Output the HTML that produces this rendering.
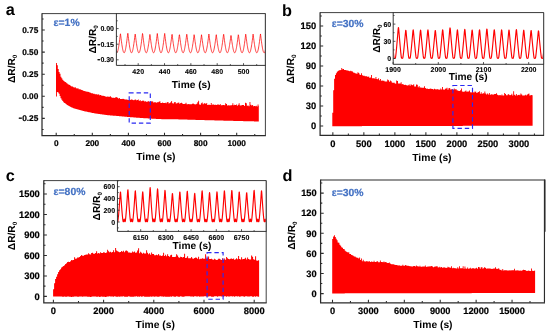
<!DOCTYPE html>
<html><head><meta charset="utf-8"><title>Figure</title>
<style>html,body{margin:0;padding:0;background:#fff}svg{display:block}</style>
</head><body>
<svg width="550" height="334" viewBox="0 0 550 334" style="text-rendering:geometricPrecision">
<defs>
<clipPath id="ca"><rect x="117" y="13" width="148" height="52"/></clipPath>
<clipPath id="cb"><rect x="393.6" y="13" width="149.6" height="51"/></clipPath>
<clipPath id="cc"><rect x="117.6" y="180" width="148.2" height="51"/></clipPath>
</defs>
<rect width="550" height="334" fill="#fff"/>
<path d="M56 62.88H56.9L56.9 65.34H57.8L57.8 69.11H58.7L58.7 71.93H59.6L59.6 73.76H60.5L60.5 76.7H61.4L61.4 78.29H62.3L62.3 79.71H63.2L63.2 80.85H64.1L64.1 81.45H65L65 82.05H65.9L65.9 82.63H66.8L66.8 83.54H67.7L67.7 84.28H68.6L68.6 84.78H69.5L69.5 84.92H70.4L70.4 85.9H71.3L71.3 86.38H72.2L72.2 86.42H73.1L73.1 87.3H74L74 87.42H74.9L74.9 87.26H75.8L75.8 88.2H76.7L76.7 88.39H77.6L77.6 88.32H78.5L78.5 89.18H79.4L79.4 89.35H80.3L80.3 89.5H81.2L81.2 89.89H82.1L82.1 90.33H83L83 90.75H83.9L83.9 90.91H84.8L84.8 91.24H85.7L85.7 91.46H86.6L86.6 91.79H87.5L87.5 91.66H88.4L88.4 92.03H89.3L89.3 92.62H90.2L90.2 92.75H91.1L91.1 93.18H92L92 93.37H92.9L92.9 93.69H93.8L93.8 93.76H94.7L94.7 94.2H95.6L95.6 94.35H96.5L96.5 94.32H97.4L97.4 94.76H98.3L98.3 94.32H99.2L99.2 95.26H100.1L100.1 95.04H101L101 95.52H101.9L101.9 95.71H102.8L102.8 95.74H103.7L103.7 96.03H104.6L104.6 96.29H105.5L105.5 96.69H106.4L106.4 96.81H107.3L107.3 96.51H108.2L108.2 96.85H109.1L109.1 96.82H110L110 96.2H110.9L110.9 97.13H111.8L111.8 97.73H112.7L112.7 97.75H113.6L113.6 97.68H114.5L114.5 98.09H115.4L115.4 96.92H116.3L116.3 97.25H117.2L117.2 97.82H118.1L118.1 98.47H119L119 98.04H119.9L119.9 98.91H120.8L120.8 98.92H121.7L121.7 98.91H122.6L122.6 98.68H123.5L123.5 99.11H124.4L124.4 99.47H125.3L125.3 99.45H126.2L126.2 99.57H127.1L127.1 99.7H128L128 99.89H128.9L128.9 99.81H129.8L129.8 99.88H130.7L130.7 99.52H131.6L131.6 99.56H132.5L132.5 100.09H133.4L133.4 100.24H134.3L134.3 99.87H135.2L135.2 99.6H136.1L136.1 100.25H137L137 100.08H137.9L137.9 99.53H138.8L138.8 101.12H139.7L139.7 100.09H140.6L140.6 101.14H141.5L141.5 101.05H142.4L142.4 100.6H143.3L143.3 100.87H144.2L144.2 101.59H145.1L145.1 101.14H146L146 101.81H146.9L146.9 101.68H147.8L147.8 101.04H148.7L148.7 101.79H149.6L149.6 101.66H150.5L150.5 101.51H151.4L151.4 101.32H152.3L152.3 101.56H153.2L153.2 102.5H154.1L154.1 102.24H155L155 102.26H155.9L155.9 102.68H156.8L156.8 102.29H157.7L157.7 102.26H158.6L158.6 101.79H159.5L159.5 101.15H160.4L160.4 102.95H161.3L161.3 102.91H162.2L162.2 102.41H163.1L163.1 103.06H164L164 103.03H164.9L164.9 102.66H165.8L165.8 103.15H166.7L166.7 102.28H167.6L167.6 102.02H168.5L168.5 103.38H169.4L169.4 102.91H170.3L170.3 102.36H171.2L171.2 100.91H172.1L172.1 103.34H173L173 103.47H173.9L173.9 102.14H174.8L174.8 101.94H175.7L175.7 103.57H176.6L176.6 103.34H177.5L177.5 102.87H178.4L178.4 102.46H179.3L179.3 103.75H180.2L180.2 103.1H181.1L181.1 102.71H182L182 103.39H182.9L182.9 103.9H183.8L183.8 104.04H184.7L184.7 103.85H185.6L185.6 102.85H186.5L186.5 104.14H187.4L187.4 104.21H188.3L188.3 103.89H189.2L189.2 104.23H190.1L190.1 104.19H191L191 104.34H191.9L191.9 103.79H192.8L192.8 103.46H193.7L193.7 104.01H194.6L194.6 104.38H195.5L195.5 104.2H196.4L196.4 103.83H197.3L197.3 102.24H198.2L198.2 100.85H199.1L199.1 104.45H200L200 104.71H200.9L200.9 103.22H201.8L201.8 102.53H202.7L202.7 104.27H203.6L203.6 103.55H204.5L204.5 103.11H205.4L205.4 104.07H206.3L206.3 103.1H207.2L207.2 104.93H208.1L208.1 104.7H209L209 104.72H209.9L209.9 104.93H210.8L210.8 102.89H211.7L211.7 105.08H212.6L212.6 104.11H213.5L213.5 105.1H214.4L214.4 104.78H215.3L215.3 104.72H216.2L216.2 105.07H217.1L217.1 104.59H218L218 104.59H218.9L218.9 104.98H219.8L219.8 104.11H220.7L220.7 105.24H221.6L221.6 105.23H222.5L222.5 105.05H223.4L223.4 105.04H224.3L224.3 105.31H225.2L225.2 103.17H226.1L226.1 103.91H227L227 105.51H227.9L227.9 105.21H228.8L228.8 105.42H229.7L229.7 105.13H230.6L230.6 105.43H231.5L231.5 105.1H232.4L232.4 103.36H233.3L233.3 105.36H234.2L234.2 104.85H235.1L235.1 105.01H236L236 104.58H236.9L236.9 105.87H237.8L237.8 104.66H238.7L238.7 103.21H239.6L239.6 105.14H240.5L240.5 105.72H241.4L241.4 105.01H242.3L242.3 104.92H243.2L243.2 105.11H244.1L244.1 106H245L245 102.73H245.9L245.9 103.26H246.8L246.8 105.71H247.7L247.7 105.41H248.6L248.6 106.26H249.5L249.5 102.07H250.4L250.4 104.73H251.3L251.3 105.42H252.2L252.2 105.05H253.1L253.1 106.24H254L254 106.11H254.9L254.9 106.22H255.8L255.8 105.66H256.7L256.7 106.46H257.6L257.6 104.43H258.5L258.5 106.01H258.8L258.8 121.5H258.5L258.5 121.48H257.6L257.6 121.46H256.7L256.7 121.44H255.8L255.8 121.42H254.9L254.9 121.39H254L254 121.37H253.1L253.1 121.35H252.2L252.2 121.33H251.3L251.3 121.31H250.4L250.4 121.28H249.5L249.5 121.26H248.6L248.6 121.24H247.7L247.7 121.22H246.8L246.8 121.2H245.9L245.9 121.18H245L245 121.15H244.1L244.1 121.13H243.2L243.2 121.11H242.3L242.3 121.09H241.4L241.4 121.07H240.5L240.5 121.04H239.6L239.6 121.02H238.7L238.7 121H237.8L237.8 120.98H236.9L236.9 120.96H236L236 120.93H235.1L235.1 120.91H234.2L234.2 120.89H233.3L233.3 120.87H232.4L232.4 120.85H231.5L231.5 120.83H230.6L230.6 120.8H229.7L229.7 120.78H228.8L228.8 120.76H227.9L227.9 120.73H227L227 120.71H226.1L226.1 120.68H225.2L225.2 120.66H224.3L224.3 120.64H223.4L223.4 120.61H222.5L222.5 120.59H221.6L221.6 120.56H220.7L220.7 120.54H219.8L219.8 120.52H218.9L218.9 120.49H218L218 120.47H217.1L217.1 120.44H216.2L216.2 120.42H215.3L215.3 120.4H214.4L214.4 120.37H213.5L213.5 120.35H212.6L212.6 120.32H211.7L211.7 120.3H210.8L210.8 120.28H209.9L209.9 120.25H209L209 120.23H208.1L208.1 120.2H207.2L207.2 120.18H206.3L206.3 120.16H205.4L205.4 120.13H204.5L204.5 120.11H203.6L203.6 120.08H202.7L202.7 120.06H201.8L201.8 120.04H200.9L200.9 120.01H200L200 119.99H199.1L199.1 119.96H198.2L198.2 119.93H197.3L197.3 119.91H196.4L196.4 119.88H195.5L195.5 119.85H194.6L194.6 119.82H193.7L193.7 119.8H192.8L192.8 119.77H191.9L191.9 119.74H191L191 119.72H190.1L190.1 119.69H189.2L189.2 119.66H188.3L188.3 119.64H187.4L187.4 119.61H186.5L186.5 119.58H185.6L185.6 119.55H184.7L184.7 119.53H183.8L183.8 119.5H182.9L182.9 119.47H182L182 119.45H181.1L181.1 119.42H180.2L180.2 119.4H179.3L179.3 119.38H178.4L178.4 119.37H177.5L177.5 119.36H176.6L176.6 119.34H175.7L175.7 119.33H174.8L174.8 119.32H173.9L173.9 119.3H173L173 119.29H172.1L172.1 119.27H171.2L171.2 119.26H170.3L170.3 119.25H169.4L169.4 119.23H168.5L168.5 119.22H167.6L167.6 119.21H166.7L166.7 119.19H165.8L165.8 119.18H164.9L164.9 119.17H164L164 119.15H163.1L163.1 119.14H162.2L162.2 119.13H161.3L161.3 119.11H160.4L160.4 119.1H159.5L159.5 119.05H158.6L158.6 119H157.7L157.7 118.95H156.8L156.8 118.9H155.9L155.9 118.85H155L155 118.8H154.1L154.1 118.75H153.2L153.2 118.7H152.3L152.3 118.65H151.4L151.4 118.6H150.5L150.5 118.54H149.6L149.6 118.48H148.7L148.7 118.43H147.8L147.8 118.37H146.9L146.9 118.32H146L146 118.26H145.1L145.1 118.2H144.2L144.2 118.15H143.3L143.3 118.09H142.4L142.4 118.03H141.5L141.5 117.98H140.6L140.6 117.92H139.7L139.7 117.86H138.8L138.8 117.78H137.9L137.9 117.71H137L137 117.64H136.1L136.1 117.57H135.2L135.2 117.49H134.3L134.3 117.42H133.4L133.4 117.35H132.5L132.5 117.28H131.6L131.6 117.2H130.7L130.7 117.13H129.8L129.8 117.06H128.9L128.9 116.99H128L128 116.91H127.1L127.1 116.83H126.2L126.2 116.75H125.3L125.3 116.67H124.4L124.4 116.59H123.5L123.5 116.51H122.6L122.6 116.43H121.7L121.7 116.35H120.8L120.8 116.27H119.9L119.9 116.19H119L119 116.11H118.1L118.1 116.03H117.2L117.2 115.95H116.3L116.3 115.87H115.4L115.4 115.79H114.5L114.5 115.71H113.6L113.6 115.63H112.7L112.7 115.55H111.8L111.8 115.47H110.9L110.9 115.39H110L110 115.31H109.1L109.1 115.23H108.2L108.2 115.15H107.3L107.3 115.08H106.4L106.4 114.99H105.5L105.5 114.86H104.6L104.6 114.73H103.7L103.7 114.6H102.8L102.8 114.47H101.9L101.9 114.34H101L101 114.21H100.1L100.1 114.08H99.2L99.2 113.95H98.3L98.3 113.83H97.4L97.4 113.7H96.5L96.5 113.57H95.6L95.6 113.44H94.7L94.7 113.27H93.8L93.8 113.08H92.9L92.9 112.9H92L92 112.71H91.1L91.1 112.53H90.2L90.2 112.34H89.3L89.3 112.16H88.4L88.4 111.97H87.5L87.5 111.79H86.6L86.6 111.6H85.7L85.7 111.42H84.8L84.8 111.23H83.9L83.9 111.03H83L83 110.76H82.1L82.1 110.5H81.2L81.2 110.24H80.3L80.3 109.98H79.4L79.4 109.71H78.5L78.5 109.45H77.6L77.6 109.19H76.7L76.7 108.92H75.8L75.8 108.66H74.9L74.9 108.4H74L74 108.14H73.1L73.1 107.87H72.2L72.2 107.46H71.3L71.3 106.99H70.4L70.4 106.52H69.5L69.5 106.05H68.6L68.6 105.58H67.7L67.7 104.93H66.8L66.8 104.25H65.9L65.9 103.57H65L65 102.89H64.1L64.1 102.21H63.2L63.2 101.02H62.3L62.3 99.73H61.4L61.4 98.2H60.5L60.5 96.03H59.6L59.6 93.86H58.7L58.7 92.53H57.8L57.8 92.04H56.9L56.9 96.5H56Z" fill="#ff0000"/>
<rect x="129.2" y="92.8" width="21.1" height="30.3" fill="none" stroke="#2a2af2" stroke-width="1.15" stroke-dasharray="4.4 2.9"/>
<path d="M42 13.6H265.4V135.6" fill="none" stroke="#2b2b2b" stroke-width="0.9"/>
<path d="M42 13.15V135.6H265.85" fill="none" stroke="#2b2b2b" stroke-width="1.25"/>
<path d="M56.2 135.6v-2.8M92.3 135.6v-2.8M128.4 135.6v-2.8M164.5 135.6v-2.8M200.6 135.6v-2.8M236.7 135.6v-2.8M74.25 135.6v-1.6M110.35 135.6v-1.6M146.45 135.6v-1.6M182.55 135.6v-1.6M218.65 135.6v-1.6M254.75 135.6v-1.6M42 30h2.8M42 52.1h2.8M42 74.2h2.8M42 96.3h2.8M42 118.4h2.8M42 18.95h1.6M42 41.05h1.6M42 63.15h1.6M42 85.25h1.6M42 107.35h1.6M42 129.45h1.6" fill="none" stroke="#2b2b2b" stroke-width="1.06"/>
<g font-size="8.3" font-family="Liberation Sans, Arial, sans-serif" font-weight="bold" fill="#000" stroke="#000" stroke-width="0.2">
<text x="56.2" y="146.1" text-anchor="middle">0</text>
<text x="92.3" y="146.1" text-anchor="middle">200</text>
<text x="128.4" y="146.1" text-anchor="middle">400</text>
<text x="164.5" y="146.1" text-anchor="middle">600</text>
<text x="200.6" y="146.1" text-anchor="middle">800</text>
<text x="236.7" y="146.1" text-anchor="middle">1000</text>
<text x="38.3" y="32.9" text-anchor="end">0.75</text>
<text x="38.3" y="55" text-anchor="end">0.50</text>
<text x="38.3" y="77.1" text-anchor="end">0.25</text>
<text x="38.3" y="99.2" text-anchor="end">0.00</text>
<text x="38.3" y="121.3" text-anchor="end"><tspan font-size="11.0">-</tspan>0.25</text>
</g>
<text transform="translate(15 68.8) rotate(-90)" font-size="10.2" text-anchor="middle" font-family="Liberation Sans, Arial, sans-serif" font-weight="bold" fill="#000">ΔR/R<tspan font-size="6.3" dy="2.2">0</tspan></text>
<text transform="translate(155.9 159.7) scale(1 1)" font-size="10.3" text-anchor="middle" font-family="Liberation Sans, Arial, sans-serif" font-weight="bold" fill="#000">Time (s)</text>
<text x="5.8" y="15.4" font-size="16.3" font-family="Liberation Sans, Arial, sans-serif" font-weight="bold" fill="#000">a</text>
<text transform="translate(53.6 25.8) scale(1 1)" font-size="10.4" font-family="Liberation Sans, Arial, sans-serif" font-weight="bold" fill="#4472c4" stroke="#4472c4" stroke-width="0.2">ε=1%</text>
<rect x="116.4" y="13.6" width="148.9" height="51.800000000000004" fill="#fff"/>
<path d="M115.5 50.05 115.7 50.83 115.9 51.5 116.1 52.03 116.3 52.42 116.5 52.68 116.7 52.79 116.9 52.77 117.1 52.6 117.3 52.3 117.5 51.86 117.7 51.28 117.9 50.57 118.1 49.74 118.3 48.79 118.5 47.73 118.7 46.57 118.9 45.31 119.1 43.96 119.3 42.53 119.5 41.04 119.7 39.5 119.9 37.91 120.1 36.28 120.3 34.64 120.5 33.81 120.7 35.46 120.9 37.1 121.1 38.71 121.3 40.28 121.5 41.8 121.7 43.25 121.9 44.64 122.1 45.95 122.3 47.16 122.5 48.28 122.7 49.28 122.9 50.17 123.1 50.94 123.3 51.58 123.5 52.09 123.7 52.47 123.9 52.7 124.1 52.8 124.3 52.75 124.5 52.56 124.7 52.22 124.9 51.74 125.1 51.11 125.3 50.36 125.5 49.48 125.7 48.47 125.9 47.35 126.1 46.12 126.3 44.79 126.5 43.38 126.7 41.88 126.9 40.32 127.1 38.7 127.3 37.04 127.5 35.35 127.7 33.63 127.9 33.29 128.1 35.01 128.3 36.7 128.5 38.37 128.7 40 128.9 41.57 129.1 43.08 129.3 44.52 129.5 45.86 129.7 47.11 129.9 48.25 130.1 49.28 130.3 50.19 130.5 50.97 130.7 51.62 130.9 52.13 131.1 52.5 131.3 52.72 131.5 52.8 131.7 52.73 131.9 52.53 132.1 52.18 132.3 51.7 132.5 51.08 132.7 50.34 132.9 49.47 133.1 48.49 133.3 47.39 133.5 46.2 133.7 44.91 133.9 43.54 134.1 42.09 134.3 40.58 134.5 39.02 134.7 37.42 134.9 35.79 135.1 34.14 135.3 34.31 135.5 35.96 135.7 37.58 135.9 39.18 136.1 40.74 136.3 42.24 136.5 43.68 136.7 45.04 136.9 46.32 137.1 47.51 137.3 48.59 137.5 49.56 137.7 50.42 137.9 51.15 138.1 51.75 138.3 52.22 138.5 52.55 138.7 52.75 138.9 52.8 139.1 52.71 139.3 52.48 139.5 52.1 139.7 51.59 139.9 50.94 140.1 50.16 140.3 49.26 140.5 48.24 140.7 47.1 140.9 45.87 141.1 44.54 141.3 43.13 141.5 41.65 141.7 40.1 141.9 38.5 142.1 36.86 142.3 35.19 142.5 33.51 142.7 34.18 142.9 35.86 143.1 37.52 143.3 39.14 143.5 40.72 143.7 42.25 143.9 43.7 144.1 45.08 144.3 46.38 144.5 47.57 144.7 48.66 144.9 49.63 145.1 50.49 145.3 51.22 145.5 51.81 145.7 52.27 145.9 52.59 146.1 52.76 146.3 52.79 146.5 52.69 146.7 52.45 146.9 52.08 147.1 51.58 147.3 50.95 147.5 50.2 147.7 49.34 147.9 48.36 148.1 47.28 148.3 46.11 148.5 44.85 148.7 43.51 148.9 42.11 149.1 40.64 149.3 39.14 149.5 37.59 149.7 36.02 149.9 34.44 150.1 35.55 150.3 37.12 150.5 38.67 150.7 40.2 150.9 41.67 151.1 43.1 151.3 44.46 151.5 45.74 151.7 46.94 151.9 48.05 152.1 49.05 152.3 49.95 152.5 50.74 152.7 51.4 152.9 51.94 153.1 52.35 153.3 52.63 153.5 52.78 153.7 52.79 153.9 52.66 154.1 52.39 154.3 51.98 154.5 51.44 154.7 50.77 154.9 49.98 155.1 49.06 155.3 48.03 155.5 46.9 155.7 45.67 155.9 44.35 156.1 42.95 156.3 41.48 156.5 39.95 156.7 38.38 156.9 36.77 157.1 35.14 157.3 33.5 157.5 35.14 157.7 36.77 157.9 38.38 158.1 39.95 158.3 41.48 158.5 42.95 158.7 44.35 158.9 45.67 159.1 46.9 159.3 48.03 159.5 49.06 159.7 49.98 159.9 50.77 160.1 51.44 160.3 51.98 160.5 52.39 160.7 52.66 160.9 52.79 161.1 52.78 161.3 52.62 161.5 52.33 161.7 51.9 161.9 51.33 162.1 50.63 162.3 49.8 162.5 48.85 162.7 47.79 162.9 46.62 163.1 45.36 163.3 44.01 163.5 42.57 163.7 41.08 163.9 39.52 164.1 37.92 164.3 36.28 164.5 34.62 164.7 33.45 164.9 35.12 165.1 36.77 165.3 38.4 165.5 39.99 165.7 41.53 165.9 43.01 166.1 44.42 166.3 45.75 166.5 46.99 166.7 48.12 166.9 49.15 167.1 50.06 167.3 50.85 167.5 51.51 167.7 52.04 167.9 52.43 168.1 52.68 168.3 52.79 168.5 52.76 168.7 52.6 168.9 52.29 169.1 51.85 169.3 51.29 169.5 50.59 169.7 49.78 169.9 48.85 170.1 47.81 170.3 46.67 170.5 45.43 170.7 44.12 170.9 42.73 171.1 41.27 171.3 39.76 171.5 38.21 171.7 36.63 171.9 35.03 172.1 34.38 172.3 35.99 172.5 37.58 172.7 39.15 172.9 40.67 173.1 42.15 173.3 43.57 173.5 44.92 173.7 46.19 173.9 47.36 174.1 48.44 174.3 49.42 174.5 50.28 174.7 51.02 174.9 51.64 175.1 52.13 175.3 52.49 175.5 52.71 175.7 52.8 175.9 52.75 176.1 52.56 176.3 52.24 176.5 51.78 176.7 51.2 176.9 50.49 177.1 49.66 177.3 48.72 177.5 47.67 177.7 46.52 177.9 45.28 178.1 43.96 178.3 42.57 178.5 41.11 178.7 39.6 178.9 38.05 179.1 36.48 179.3 34.88 179.5 34.72 179.7 36.32 179.9 37.9 180.1 39.45 180.3 40.96 180.5 42.42 180.7 43.82 180.9 45.15 181.1 46.4 181.3 47.56 181.5 48.62 181.7 49.57 181.9 50.41 182.1 51.13 182.3 51.73 182.5 52.2 182.7 52.53 182.9 52.74 183.1 52.8 183.3 52.73 183.5 52.51 183.7 52.17 183.9 51.68 184.1 51.06 184.3 50.32 184.5 49.46 184.7 48.48 184.9 47.39 185.1 46.2 185.3 44.93 185.5 43.56 185.7 42.13 185.9 40.63 186.1 39.09 186.3 37.5 186.5 35.89 186.7 34.25 186.9 34.58 187.1 36.21 187.3 37.82 187.5 39.4 187.7 40.94 187.9 42.42 188.1 43.84 188.3 45.19 188.5 46.45 188.7 47.62 188.9 48.68 189.1 49.64 189.3 50.48 189.5 51.2 189.7 51.79 189.9 52.25 190.1 52.57 190.3 52.75 190.5 52.8 190.7 52.71 190.9 52.48 191.1 52.13 191.3 51.64 191.5 51.03 191.7 50.3 191.9 49.45 192.1 48.49 192.3 47.42 192.5 46.27 192.7 45.02 192.9 43.7 193.1 42.31 193.3 40.86 193.5 39.36 193.7 37.83 193.9 36.27 194.1 34.69 194.3 35.48 194.5 37.05 194.7 38.6 194.9 40.11 195.1 41.59 195.3 43.01 195.5 44.37 195.7 45.65 195.9 46.86 196.1 47.97 196.3 48.98 196.5 49.88 196.7 50.68 196.9 51.35 197.1 51.9 197.3 52.32 197.5 52.61 197.7 52.77 197.9 52.79 198.1 52.68 198.3 52.44 198.5 52.07 198.7 51.58 198.9 50.96 199.1 50.22 199.3 49.37 199.5 48.41 199.7 47.35 199.9 46.19 200.1 44.96 200.3 43.64 200.5 42.27 200.7 40.83 200.9 39.35 201.1 37.84 201.3 36.3 201.5 34.76 201.7 36 201.9 37.54 202.1 39.05 202.3 40.54 202.5 41.98 202.7 43.37 202.9 44.7 203.1 45.95 203.3 47.12 203.5 48.2 203.7 49.18 203.9 50.06 204.1 50.82 204.3 51.46 204.5 51.98 204.7 52.38 204.9 52.65 205.1 52.78 205.3 52.78 205.5 52.65 205.7 52.38 205.9 51.98 206.1 51.45 206.3 50.79 206.5 50.01 206.7 49.11 206.9 48.1 207.1 46.99 207.3 45.79 207.5 44.5 207.7 43.13 207.9 41.7 208.1 40.21 208.3 38.68 208.5 37.11 208.7 35.52 208.9 34.08 209.1 35.68 209.3 37.27 209.5 38.83 209.7 40.36 209.9 41.85 210.1 43.27 210.3 44.63 210.5 45.91 210.7 47.11 210.9 48.21 211.1 49.2 211.3 50.09 211.5 50.86 211.7 51.51 211.9 52.03 212.1 52.42 212.3 52.67 212.5 52.79 212.7 52.77 212.9 52.62 213.1 52.34 213.3 51.93 213.5 51.39 213.7 50.72 213.9 49.94 214.1 49.05 214.3 48.05 214.5 46.95 214.7 45.75 214.9 44.48 215.1 43.13 215.3 41.72 215.5 40.26 215.7 38.75 215.9 37.21 216.1 35.65 216.3 34.71 216.5 36.28 216.7 37.83 216.9 39.36 217.1 40.85 217.3 42.29 217.5 43.68 217.7 45 217.9 46.24 218.1 47.4 218.3 48.46 218.5 49.42 218.7 50.27 218.9 51 219.1 51.62 219.3 52.11 219.5 52.47 219.7 52.7 219.9 52.8 220.1 52.76 220.3 52.58 220.5 52.27 220.7 51.82 220.9 51.24 221.1 50.53 221.3 49.7 221.5 48.76 221.7 47.7 221.9 46.54 222.1 45.29 222.3 43.96 222.5 42.55 222.7 41.08 222.9 39.55 223.1 37.98 223.3 36.38 223.5 34.76 223.7 34.27 223.9 35.89 224.1 37.5 224.3 39.08 224.5 40.62 224.7 42.11 224.9 43.54 225.1 44.9 225.3 46.18 225.5 47.36 225.7 48.45 225.9 49.43 226.1 50.3 226.3 51.04 226.5 51.66 226.7 52.15 226.9 52.5 227.1 52.72 227.3 52.8 227.5 52.74 227.7 52.56 227.9 52.24 228.1 51.8 228.3 51.24 228.5 50.55 228.7 49.75 228.9 48.85 229.1 47.84 229.3 46.73 229.5 45.54 229.7 44.27 229.9 42.93 230.1 41.54 230.3 40.09 230.5 38.61 230.7 37.1 230.9 35.57 231.1 35.57 231.3 37.1 231.5 38.61 231.7 40.09 231.9 41.54 232.1 42.93 232.3 44.27 232.5 45.54 232.7 46.73 232.9 47.84 233.1 48.85 233.3 49.75 233.5 50.55 233.7 51.24 233.9 51.8 234.1 52.24 234.3 52.56 234.5 52.74 234.7 52.8 234.9 52.72 235.1 52.51 235.3 52.16 235.5 51.69 235.7 51.09 235.9 50.36 236.1 49.52 236.3 48.56 236.5 47.51 236.7 46.35 236.9 45.11 237.1 43.78 237.3 42.39 237.5 40.94 237.7 39.44 237.9 37.9 238.1 36.34 238.3 34.75 238.5 35.23 238.7 36.81 238.9 38.37 239.1 39.89 239.3 41.38 239.5 42.82 239.7 44.19 239.9 45.49 240.1 46.71 240.3 47.83 240.5 48.86 240.7 49.78 240.9 50.59 241.1 51.28 241.3 51.85 241.5 52.28 241.7 52.59 241.9 52.76 242.1 52.8 242.3 52.7 242.5 52.46 242.7 52.09 242.9 51.59 243.1 50.96 243.3 50.2 243.5 49.33 243.7 48.34 243.9 47.25 244.1 46.06 244.3 44.79 244.5 43.43 244.7 42.01 244.9 40.52 245.1 38.99 245.3 37.42 245.5 35.83 245.7 34.22 245.9 35.19 246.1 36.79 246.3 38.37 246.5 39.92 246.7 41.42 246.9 42.87 247.1 44.25 247.3 45.56 247.5 46.79 247.7 47.92 247.9 48.95 248.1 49.86 248.3 50.67 248.5 51.35 248.7 51.9 248.9 52.33 249.1 52.62 249.3 52.77 249.5 52.79 249.7 52.67 249.9 52.42 250.1 52.03 250.3 51.51 250.5 50.87 250.7 50.11 250.9 49.22 251.1 48.23 251.3 47.14 251.5 45.95 251.7 44.67 251.9 43.32 252.1 41.9 252.3 40.43 252.5 38.91 252.7 37.35 252.9 35.77 253.1 34.18 253.3 35.61 253.5 37.19 253.7 38.75 253.9 40.28 254.1 41.76 254.3 43.18 254.5 44.54 254.7 45.83 254.9 47.02 255.1 48.13 255.3 49.13 255.5 50.02 255.7 50.8 255.9 51.46 256.1 51.99 256.3 52.39 256.5 52.65 256.7 52.78 256.9 52.78 257.1 52.64 257.3 52.36 257.5 51.95 257.7 51.4 257.9 50.73 258.1 49.94 258.3 49.02 258.5 48 258.7 46.87 258.9 45.65 259.1 44.34 259.3 42.96 259.5 41.51 259.7 40 259.9 38.45 260.1 36.86 260.3 35.26 260.5 33.96 260.7 35.58 260.9 37.18 261.1 38.76 261.3 40.31 261.5 41.8 261.7 43.24 261.9 44.61 262.1 45.9 262.3 47.11 262.5 48.21 262.7 49.21 262.9 50.1 263.1 50.88 263.3 51.52 263.5 52.04 263.7 52.43 263.9 52.68 264.1 52.79 264.3 52.77 264.5 52.61 264.7 52.31 264.9 51.88 265.1 51.33 265.3 50.64 265.5 49.84 265.7 48.92 265.9 47.89 266.1 46.76 266.3 45.54" fill="none" stroke="#ff0000" stroke-width="0.75" stroke-linejoin="round" clip-path="url(#ca)"/>
<path d="M116.4 13.6H265.3V65.4" fill="none" stroke="#2b2b2b" stroke-width="0.8"/>
<path d="M116.4 13.2V65.4H265.7" fill="none" stroke="#2b2b2b" stroke-width="0.95"/>
<path d="M138.2 65.4v-2.2M164.53 65.4v-2.2M190.86 65.4v-2.2M217.19 65.4v-2.2M243.52 65.4v-2.2M125.03 65.4v-1.3M151.36 65.4v-1.3M177.69 65.4v-1.3M204.02 65.4v-1.3M230.35 65.4v-1.3M256.69 65.4v-1.3M116.4 28.6h2.2M116.4 44.2h2.2M116.4 59.8h2.2M116.4 36.4h1.3M116.4 52h1.3M116.4 20.8h1.3" fill="none" stroke="#2b2b2b" stroke-width="0.81"/>
<g font-size="7.0" font-family="Liberation Sans, Arial, sans-serif" font-weight="bold" fill="#000" stroke="#000" stroke-width="0.1">
<text x="138.2" y="73.7" text-anchor="middle">420</text>
<text x="164.53" y="73.7" text-anchor="middle">440</text>
<text x="190.86" y="73.7" text-anchor="middle">460</text>
<text x="217.19" y="73.7" text-anchor="middle">480</text>
<text x="243.52" y="73.7" text-anchor="middle">500</text>
<text x="114" y="31.1" text-anchor="end">0.00</text>
<text x="114" y="46.7" text-anchor="end"><tspan font-size="9.2">-</tspan>0.15</text>
<text x="114" y="62.3" text-anchor="end"><tspan font-size="9.2">-</tspan>0.30</text>
</g>
<text transform="translate(96.1 39.3) rotate(-90)" font-size="10.2" text-anchor="middle" font-family="Liberation Sans, Arial, sans-serif" font-weight="bold" fill="#000">ΔR/R<tspan font-size="6.3" dy="2.2">0</tspan></text>
<text transform="translate(191.2 88.1) scale(1 1)" font-size="10.2" text-anchor="middle" font-family="Liberation Sans, Arial, sans-serif" font-weight="bold" fill="#000">Time (s)</text>
<path d="M332.3 112.79H333.2L333.2 90.27H334.1L334.1 78.66H335L335 74.98H335.9L335.9 73.19H336.8L336.8 71.75H337.7L337.7 71.08H338.6L338.6 70.3H339.5L339.5 70.27H340.4L340.4 69.98H341.3L341.3 68.03H342.2L342.2 69.2H343.1L343.1 69.11H344L344 70.07H344.9L344.9 69.93H345.8L345.8 70.2H346.7L346.7 70.53H347.6L347.6 70.49H348.5L348.5 71.01H349.4L349.4 71.21H350.3L350.3 70.78H351.2L351.2 71.31H352.1L352.1 71.58H353L353 72.5H353.9L353.9 72.75H354.8L354.8 73.15H355.7L355.7 73.42H356.6L356.6 73.74H357.5L357.5 72.2H358.4L358.4 73.08H359.3L359.3 74.62H360.2L360.2 74.9H361.1L361.1 73.35H362L362 75.13H362.9L362.9 75.65H363.8L363.8 75.83H364.7L364.7 76.31H365.6L365.6 76.23H366.5L366.5 76.23H367.4L367.4 76.88H368.3L368.3 76.42H369.2L369.2 77.72H370.1L370.1 77.39H371L371 75.11H371.9L371.9 78.36H372.8L372.8 78.2H373.7L373.7 78.2H374.6L374.6 78.84H375.5L375.5 76.93H376.4L376.4 79.11H377.3L377.3 79.35H378.2L378.2 78.31H379.1L379.1 80.28H380L380 78.97H380.9L380.9 80.65H381.8L381.8 80.62H382.7L382.7 80.65H383.6L383.6 80.85H384.5L384.5 81.52H385.4L385.4 81.43H386.3L386.3 81.56H387.2L387.2 79.54H388.1L388.1 80.24H389L389 81.75H389.9L389.9 80.39H390.8L390.8 81.16H391.7L391.7 82.62H392.6L392.6 83.1H393.5L393.5 82.57H394.4L394.4 83.22H395.3L395.3 83.73H396.2L396.2 80.39H397.1L397.1 80.98H398L398 83.58H398.9L398.9 83.54H399.8L399.8 83.53H400.7L400.7 82.27H401.6L401.6 84.22H402.5L402.5 84.12H403.4L403.4 84.83H404.3L404.3 84.94H405.2L405.2 84.63H406.1L406.1 85.22H407L407 85.56H407.9L407.9 85.27H408.8L408.8 84.51H409.7L409.7 85.64H410.6L410.6 84.18H411.5L411.5 85.04H412.4L412.4 85.31H413.3L413.3 84.31H414.2L414.2 86.48H415.1L415.1 86.52H416L416 84.59H416.9L416.9 84.78H417.8L417.8 87.13H418.7L418.7 85.97H419.6L419.6 87.55H420.5L420.5 87.6H421.4L421.4 87.8H422.3L422.3 87.76H423.2L423.2 87.8H424.1L424.1 86.14H425L425 88.07H425.9L425.9 88.66H426.8L426.8 88.59H427.7L427.7 88.99H428.6L428.6 89.07H429.5L429.5 88.66H430.4L430.4 88.61H431.3L431.3 89.12H432.2L432.2 89.04H433.1L433.1 89.49H434L434 88.67H434.9L434.9 89.25H435.8L435.8 89.58H436.7L436.7 89.11H437.6L437.6 89.56H438.5L438.5 89.48H439.4L439.4 89.7H440.3L440.3 88.41H441.2L441.2 89.56H442.1L442.1 86.94H443L443 89.4H443.9L443.9 89.72H444.8L444.8 88.71H445.7L445.7 88.6H446.6L446.6 87.82H447.5L447.5 89.7H448.4L448.4 88.34H449.3L449.3 87.95H450.2L450.2 89.46H451.1L451.1 89.34H452L452 89.17H452.9L452.9 89.98H453.8L453.8 88.46H454.7L454.7 89.44H455.6L455.6 88.9H456.5L456.5 90.34H457.4L457.4 90.38H458.3L458.3 91.03H459.2L459.2 91H460.1L460.1 90.2H461L461 88.49H461.9L461.9 91.46H462.8L462.8 91.66H463.7L463.7 91.73H464.6L464.6 91.34H465.5L465.5 90.47H466.4L466.4 91.81H467.3L467.3 91.53H468.2L468.2 91.54H469.1L469.1 90.59H470L470 92.24H470.9L470.9 92.48H471.8L471.8 91.91H472.7L472.7 92.25H473.6L473.6 92.43H474.5L474.5 91.44H475.4L475.4 91.87H476.3L476.3 93.03H477.2L477.2 92.52H478.1L478.1 91.91H479L479 91.3H479.9L479.9 93.74H480.8L480.8 92.33H481.7L481.7 94.01H482.6L482.6 93.12H483.5L483.5 93.46H484.4L484.4 91.52H485.3L485.3 93.53H486.2L486.2 94.49H487.1L487.1 93.58H488L488 94.43H488.9L488.9 93.1H489.8L489.8 94.84H490.7L490.7 94.57H491.6L491.6 93.94H492.5L492.5 94.92H493.4L493.4 94.15H494.3L494.3 94.06H495.2L495.2 94H496.1L496.1 93.34H497L497 94.87H497.9L497.9 95.29H498.8L498.8 95.2H499.7L499.7 95.08H500.6L500.6 95.55H501.5L501.5 94.43H502.4L502.4 95.54H503.3L503.3 95.54H504.2L504.2 93.04H505.1L505.1 94.04H506L506 95.32H506.9L506.9 95.2H507.8L507.8 93.94H508.7L508.7 94.68H509.6L509.6 95.31H510.5L510.5 95.03H511.4L511.4 93.76H512.3L512.3 95.6H513.2L513.2 91.32H514.1L514.1 94.81H515L515 95.41H515.9L515.9 94.07H516.8L516.8 95.52H517.7L517.7 95.1H518.6L518.6 94.79H519.5L519.5 95.33H520.4L520.4 93.54H521.3L521.3 94.47H522.2L522.2 95.43H523.1L523.1 95.44H524L524 95.54H524.9L524.9 94.79H525.8L525.8 95.4H526.7L526.7 94.86H527.6L527.6 93.97H528.5L528.5 93.59H529.4L529.4 95.48H530.3L530.3 95.22H531.2L531.2 95.09H532.1L532.1 95.14H532.6L532.6 125.7H532.1L532.1 125.7H531.2L531.2 125.7H530.3L530.3 125.71H529.4L529.4 125.71H528.5L528.5 125.71H527.6L527.6 125.71H526.7L526.7 125.72H525.8L525.8 125.72H524.9L524.9 125.72H524L524 125.72H523.1L523.1 125.72H522.2L522.2 125.73H521.3L521.3 125.73H520.4L520.4 125.73H519.5L519.5 125.73H518.6L518.6 125.74H517.7L517.7 125.74H516.8L516.8 125.74H515.9L515.9 125.74H515L515 125.75H514.1L514.1 125.75H513.2L513.2 125.75H512.3L512.3 125.75H511.4L511.4 125.75H510.5L510.5 125.76H509.6L509.6 125.76H508.7L508.7 125.76H507.8L507.8 125.76H506.9L506.9 125.77H506L506 125.77H505.1L505.1 125.77H504.2L504.2 125.77H503.3L503.3 125.77H502.4L502.4 125.78H501.5L501.5 125.78H500.6L500.6 125.78H499.7L499.7 125.78H498.8L498.8 125.79H497.9L497.9 125.79H497L497 125.79H496.1L496.1 125.79H495.2L495.2 125.79H494.3L494.3 125.8H493.4L493.4 125.8H492.5L492.5 125.8H491.6L491.6 125.8H490.7L490.7 125.81H489.8L489.8 125.81H488.9L488.9 125.81H488L488 125.81H487.1L487.1 125.81H486.2L486.2 125.82H485.3L485.3 125.82H484.4L484.4 125.82H483.5L483.5 125.82H482.6L482.6 125.83H481.7L481.7 125.83H480.8L480.8 125.83H479.9L479.9 125.83H479L479 125.83H478.1L478.1 125.84H477.2L477.2 125.84H476.3L476.3 125.84H475.4L475.4 125.84H474.5L474.5 125.85H473.6L473.6 125.85H472.7L472.7 125.85H471.8L471.8 125.85H470.9L470.9 125.86H470L470 125.86H469.1L469.1 125.86H468.2L468.2 125.86H467.3L467.3 125.86H466.4L466.4 125.87H465.5L465.5 125.87H464.6L464.6 125.87H463.7L463.7 125.87H462.8L462.8 125.88H461.9L461.9 125.88H461L461 125.88H460.1L460.1 125.88H459.2L459.2 125.88H458.3L458.3 125.89H457.4L457.4 125.89H456.5L456.5 125.89H455.6L455.6 125.89H454.7L454.7 125.9H453.8L453.8 125.9H452.9L452.9 125.9H452L452 125.9H451.1L451.1 125.9H450.2L450.2 125.91H449.3L449.3 125.91H448.4L448.4 125.91H447.5L447.5 125.91H446.6L446.6 125.92H445.7L445.7 125.92H444.8L444.8 125.92H443.9L443.9 125.92H443L443 125.92H442.1L442.1 125.93H441.2L441.2 125.93H440.3L440.3 125.93H439.4L439.4 125.93H438.5L438.5 125.94H437.6L437.6 125.94H436.7L436.7 125.94H435.8L435.8 125.94H434.9L434.9 125.95H434L434 125.95H433.1L433.1 125.95H432.2L432.2 125.95H431.3L431.3 125.95H430.4L430.4 125.96H429.5L429.5 125.96H428.6L428.6 125.96H427.7L427.7 125.96H426.8L426.8 125.97H425.9L425.9 125.97H425L425 125.97H424.1L424.1 125.97H423.2L423.2 125.97H422.3L422.3 125.98H421.4L421.4 125.98H420.5L420.5 125.98H419.6L419.6 125.98H418.7L418.7 125.99H417.8L417.8 125.99H416.9L416.9 125.99H416L416 125.99H415.1L415.1 125.99H414.2L414.2 126H413.3L413.3 126H412.4L412.4 126H411.5L411.5 126H410.6L410.6 126.01H409.7L409.7 126.01H408.8L408.8 126.01H407.9L407.9 126.01H407L407 126.01H406.1L406.1 126.02H405.2L405.2 126.02H404.3L404.3 126.02H403.4L403.4 126.02H402.5L402.5 126.03H401.6L401.6 126.03H400.7L400.7 126.03H399.8L399.8 126.03H398.9L398.9 126.03H398L398 126.04H397.1L397.1 126.04H396.2L396.2 126.04H395.3L395.3 126.04H394.4L394.4 126.05H393.5L393.5 126.05H392.6L392.6 126.05H391.7L391.7 126.05H390.8L390.8 126.06H389.9L389.9 126.06H389L389 126.06H388.1L388.1 126.06H387.2L387.2 126.06H386.3L386.3 126.07H385.4L385.4 126.07H384.5L384.5 126.07H383.6L383.6 126.07H382.7L382.7 126.08H381.8L381.8 126.08H380.9L380.9 126.08H380L380 126.08H379.1L379.1 126.08H378.2L378.2 126.09H377.3L377.3 126.09H376.4L376.4 126.09H375.5L375.5 126.09H374.6L374.6 126.1H373.7L373.7 126.1H372.8L372.8 126.1H371.9L371.9 126.1H371L371 126.1H370.1L370.1 126.11H369.2L369.2 126.11H368.3L368.3 126.11H367.4L367.4 126.11H366.5L366.5 126.12H365.6L365.6 126.12H364.7L364.7 126.12H363.8L363.8 126.12H362.9L362.9 126.12H362L362 126.13H361.1L361.1 126.13H360.2L360.2 126.13H359.3L359.3 126.13H358.4L358.4 126.14H357.5L357.5 126.14H356.6L356.6 126.14H355.7L355.7 126.14H354.8L354.8 126.14H353.9L353.9 126.15H353L353 126.15H352.1L352.1 126.15H351.2L351.2 126.15H350.3L350.3 126.16H349.4L349.4 126.16H348.5L348.5 126.16H347.6L347.6 126.16H346.7L346.7 126.17H345.8L345.8 126.17H344.9L344.9 126.17H344L344 126.17H343.1L343.1 126.17H342.2L342.2 126.18H341.3L341.3 126.18H340.4L340.4 126.18H339.5L339.5 126.18H338.6L338.6 126.19H337.7L337.7 126.19H336.8L336.8 126.19H335.9L335.9 126.19H335L335 126.19H334.1L334.1 126.2H333.2L333.2 126.2H332.3Z" fill="#ff0000"/>
<rect x="452.9" y="85.5" width="19.6" height="42.8" fill="none" stroke="#2a2af2" stroke-width="1.15" stroke-dasharray="4.4 2.9"/>
<path d="M320.1 12.6H543.65V135.25" fill="none" stroke="#2b2b2b" stroke-width="0.9"/>
<path d="M320.1 12.15V135.25H544.1" fill="none" stroke="#2b2b2b" stroke-width="1.25"/>
<path d="M332.85 135.25v-3.1M363.86 135.25v-3.1M394.87 135.25v-3.1M425.88 135.25v-3.1M456.89 135.25v-3.1M487.9 135.25v-3.1M518.91 135.25v-3.1M348.36 135.25v-1.7M379.37 135.25v-1.7M410.38 135.25v-1.7M441.38 135.25v-1.7M472.39 135.25v-1.7M503.41 135.25v-1.7M534.41 135.25v-1.7M320.1 126.05h3.1M320.1 106.03h3.1M320.1 86.01h3.1M320.1 65.99h3.1M320.1 45.97h3.1M320.1 25.95h3.1M320.1 116.04h1.7M320.1 96.02h1.7M320.1 76h1.7M320.1 55.98h1.7M320.1 35.96h1.7M320.1 15.95h1.7" fill="none" stroke="#2b2b2b" stroke-width="1.06"/>
<g font-size="9.35" font-family="Liberation Sans, Arial, sans-serif" font-weight="bold" fill="#000" stroke="#000" stroke-width="0.2">
<text x="332.85" y="146.75" text-anchor="middle">0</text>
<text x="363.86" y="146.75" text-anchor="middle">500</text>
<text x="394.87" y="146.75" text-anchor="middle">1000</text>
<text x="425.88" y="146.75" text-anchor="middle">1500</text>
<text x="456.89" y="146.75" text-anchor="middle">2000</text>
<text x="487.9" y="146.75" text-anchor="middle">2500</text>
<text x="518.91" y="146.75" text-anchor="middle">3000</text>
<text x="316.1" y="129.25" text-anchor="end">0</text>
<text x="316.1" y="109.23" text-anchor="end">30</text>
<text x="316.1" y="89.21" text-anchor="end">60</text>
<text x="316.1" y="69.19" text-anchor="end">90</text>
<text x="316.1" y="49.17" text-anchor="end">120</text>
<text x="316.1" y="29.15" text-anchor="end">150</text>
</g>
<text transform="translate(293.8 69) rotate(-90)" font-size="10.4" text-anchor="middle" font-family="Liberation Sans, Arial, sans-serif" font-weight="bold" fill="#000">ΔR/R<tspan font-size="6.4" dy="2.3">0</tspan></text>
<text transform="translate(431.9 160.8) scale(1 1)" font-size="10.3" text-anchor="middle" font-family="Liberation Sans, Arial, sans-serif" font-weight="bold" fill="#000">Time (s)</text>
<text x="282" y="15.5" font-size="16.3" font-family="Liberation Sans, Arial, sans-serif" font-weight="bold" fill="#000">b</text>
<text transform="translate(331.7 26.6) scale(1 1)" font-size="10.4" font-family="Liberation Sans, Arial, sans-serif" font-weight="bold" fill="#4472c4" stroke="#4472c4" stroke-width="0.2">ε=30%</text>
<rect x="393.2" y="12.6" width="150.40000000000003" height="51.699999999999996" fill="#fff"/>
<path d="M392.2 39.18 392.4 41.52 392.6 43.81 392.8 46.05 393 48.24 393.2 50.37 393.4 52.42 393.6 54.36 393.8 56.11 394 57.42 394.2 58.09 394.4 58.27 394.6 58.3 394.8 58.3 395 58.3 395.2 58.24 395.4 57.93 395.6 57.03 395.8 55.53 396 53.7 396.2 51.71 396.4 49.63 396.6 47.48 396.8 45.27 397 43.01 397.2 40.71 397.4 38.36 397.6 35.97 397.8 33.56 398 31.12 398.2 28.88 398.4 27.58 398.6 28.05 398.8 29.95 399 32.34 399.2 34.77 399.4 37.17 399.6 39.54 399.8 41.87 400 44.15 400.2 46.39 400.4 48.57 400.6 50.68 400.8 52.72 401 54.64 401.2 56.34 401.4 57.56 401.6 58.14 401.8 58.28 402 58.3 402.2 58.3 402.4 58.29 402.6 58.23 402.8 57.87 403 56.97 403.2 55.54 403.4 53.84 403.6 52.02 403.8 50.11 404 48.14 404.2 46.12 404.4 44.05 404.6 41.94 404.8 39.8 405 37.62 405.2 35.41 405.4 33.2 405.6 31.22 405.8 30.23 406 30.91 406.2 32.77 406.4 34.97 406.6 37.18 406.8 39.36 407 41.52 407.2 43.63 407.4 45.71 407.6 47.74 407.8 49.72 408 51.64 408.2 53.48 408.4 55.22 408.6 56.72 408.8 57.75 409 58.19 409.2 58.29 409.4 58.3 409.6 58.3 409.8 58.29 410 58.2 410.2 57.78 410.4 56.76 410.6 55.26 410.8 53.51 411 51.65 411.2 49.71 411.4 47.7 411.6 45.65 411.8 43.54 412 41.4 412.2 39.22 412.4 37.01 412.6 34.77 412.8 32.53 413 30.61 413.2 29.83 413.4 30.76 413.6 32.75 413.8 34.99 414 37.23 414.2 39.44 414.4 41.62 414.6 43.76 414.8 45.85 415 47.9 415.2 49.9 415.4 51.84 415.6 53.69 415.8 55.42 416 56.89 416.2 57.84 416.4 58.22 416.6 58.29 416.8 58.3 417 58.3 417.2 58.29 417.4 58.17 417.6 57.67 417.8 56.57 418 55.03 418.2 53.27 418.4 51.41 418.6 49.47 418.8 47.47 419 45.42 419.2 43.32 419.4 41.19 419.6 39.02 419.8 36.82 420 34.59 420.2 32.39 420.4 30.6 420.6 30.09 420.8 31.22 421 33.25 421.2 35.48 421.4 37.7 421.6 39.89 421.8 42.05 422 44.17 422.2 46.24 422.4 48.27 422.6 50.25 422.8 52.16 423 53.99 423.2 55.68 423.4 57.08 423.6 57.93 423.8 58.24 424 58.3 424.2 58.3 424.4 58.3 424.6 58.28 424.8 58.12 425 57.53 425.2 56.35 425.4 54.75 425.6 52.96 425.8 51.07 426 49.11 426.2 47.09 426.4 45.02 426.6 42.9 426.8 40.75 427 38.56 427.2 36.34 427.4 34.09 427.6 31.9 427.8 30.23 428 29.97 428.2 31.31 428.4 33.42 428.6 35.67 428.8 37.9 429 40.1 429.2 42.26 429.4 44.39 429.6 46.47 429.8 48.51 430 50.49 430.2 52.4 430.4 54.23 430.6 55.9 430.8 57.24 431 58.01 431.2 58.26 431.4 58.3 431.6 58.3 431.8 58.3 432 58.27 432.2 58.07 432.4 57.41 432.6 56.17 432.8 54.57 433 52.79 433.2 50.93 433.4 49 433.6 47.01 433.8 44.97 434 42.89 434.2 40.78 434.4 38.63 434.6 36.44 434.8 34.24 435 32.11 435.2 30.59 435.4 30.59 435.6 32.11 435.8 34.24 436 36.44 436.2 38.63 436.4 40.78 436.6 42.89 436.8 44.97 437 47.01 437.2 49 437.4 50.93 437.6 52.79 437.8 54.57 438 56.17 438.2 57.41 438.4 58.07 438.6 58.27 438.8 58.3 439 58.3 439.2 58.3 439.4 58.26 439.6 58.01 439.8 57.24 440 55.89 440.2 54.21 440.4 52.38 440.6 50.46 440.8 48.48 441 46.43 441.2 44.34 441.4 42.21 441.6 40.04 441.8 37.83 442 35.59 442.2 33.34 442.4 31.22 442.6 29.87 442.8 30.13 443 31.81 443.2 34.01 443.4 36.27 443.6 38.5 443.8 40.69 444 42.85 444.2 44.98 444.4 47.05 444.6 49.08 444.8 51.05 445 52.94 445.2 54.74 445.4 56.34 445.6 57.53 445.8 58.12 446 58.28 446.2 58.3 446.4 58.3 446.6 58.3 446.8 58.23 447 57.9 447.2 56.98 447.4 55.47 447.6 53.65 447.8 51.67 448 49.61 448.2 47.48 448.4 45.28 448.6 43.04 448.8 40.75 449 38.42 449.2 36.06 449.4 33.66 449.6 31.25 449.8 29.06 450 27.84 450.2 28.39 450.4 30.32 450.6 32.7 450.8 35.1 451 37.48 451.2 39.83 451.4 42.13 451.6 44.39 451.8 46.6 452 48.76 452.2 50.86 452.4 52.87 452.6 54.77 452.8 56.44 453 57.62 453.2 58.15 453.4 58.29 453.6 58.3 453.8 58.3 454 58.29 454.2 58.22 454.4 57.84 454.6 56.89 454.8 55.42 455 53.69 455.2 51.84 455.4 49.9 455.6 47.9 455.8 45.85 456 43.76 456.2 41.62 456.4 39.44 456.6 37.23 456.8 34.99 457 32.75 457.2 30.76 457.4 29.83 457.6 30.61 457.8 32.53 458 34.77 458.2 37.01 458.4 39.22 458.6 41.4 458.8 43.54 459 45.65 459.2 47.7 459.4 49.71 459.6 51.65 459.8 53.51 460 55.26 460.2 56.76 460.4 57.78 460.6 58.2 460.8 58.29 461 58.3 461.2 58.3 461.4 58.29 461.6 58.19 461.8 57.73 462 56.67 462.2 55.11 462.4 53.32 462.6 51.42 462.8 49.43 463 47.39 463.2 45.29 463.4 43.14 463.6 40.96 463.8 38.73 464 36.47 464.2 34.19 464.4 31.92 464.6 29.99 464.8 29.29 465 30.31 465.2 32.36 465.4 34.64 465.6 36.93 465.8 39.18 466 41.4 466.2 43.58 466.4 45.71 466.6 47.8 466.8 49.84 467 51.81 467.2 53.69 467.4 55.45 467.6 56.92 467.8 57.86 468 58.22 468.2 58.29 468.4 58.3 468.6 58.3 468.8 58.28 469 58.15 469.2 57.62 469.4 56.5 469.6 54.94 469.8 53.18 470 51.31 470.2 49.37 470.4 47.37 470.6 45.31 470.8 43.22 471 41.08 471.2 38.91 471.4 36.71 471.6 34.47 471.8 32.28 472 30.54 472.2 30.11 472.4 31.31 472.6 33.36 472.8 35.59 473 37.81 473.2 40 473.4 42.15 473.6 44.27 473.8 46.35 474 48.37 474.2 50.35 474.4 52.26 474.6 54.08 474.8 55.76 475 57.13 475.2 57.96 475.4 58.25 475.6 58.3 475.8 58.3 476 58.3 476.2 58.28 476.4 58.1 476.6 57.48 476.8 56.27 477 54.65 477.2 52.85 477.4 50.95 477.6 48.98 477.8 46.95 478 44.87 478.2 42.75 478.4 40.58 478.6 38.38 478.8 36.15 479 33.9 479.2 31.71 479.4 30.07 479.6 29.9 479.8 31.31 480 33.45 480.2 35.7 480.4 37.94 480.6 40.15 480.8 42.32 481 44.45 481.2 46.54 481.4 48.58 481.6 50.56 481.8 52.48 482 54.3 482.2 55.97 482.4 57.29 482.6 58.03 482.8 58.26 483 58.3 483.2 58.3 483.4 58.3 483.6 58.27 483.8 58.05 484 57.32 484.2 55.98 484.4 54.28 484.6 52.4 484.8 50.43 485 48.39 485.2 46.3 485.4 44.15 485.6 41.95 485.8 39.72 486 37.45 486.2 35.15 486.4 32.83 486.6 30.61 486.8 29.08 487 29.17 487.2 30.81 487.4 33.06 487.6 35.38 487.8 37.68 488 39.95 488.2 42.18 488.4 44.36 488.6 46.51 488.8 48.6 489 50.63 489.2 52.59 489.4 54.45 489.6 56.13 489.8 57.41 490 58.08 490.2 58.27 490.4 58.3 490.6 58.3 490.8 58.3 491 58.25 491.2 57.98 491.4 57.18 491.6 55.81 491.8 54.11 492 52.27 492.2 50.34 492.4 48.34 492.6 46.29 492.8 44.19 493 42.05 493.2 39.87 493.4 37.65 493.6 35.4 493.8 33.14 494 31.04 494.2 29.76 494.4 30.1 494.6 31.83 494.8 34.04 495 36.31 495.2 38.54 495.4 40.74 495.6 42.91 495.8 45.04 496 47.12 496.2 49.15 496.4 51.12 496.6 53.02 496.8 54.81 497 56.41 497.2 57.57 497.4 58.13 497.6 58.28 497.8 58.3 498 58.3 498.2 58.3 498.4 58.23 498.6 57.9 498.8 57.01 499 55.58 499.2 53.87 499.4 52.03 499.6 50.1 499.8 48.11 500 46.06 500.2 43.97 500.4 41.83 500.6 39.66 500.8 37.45 501 35.22 501.2 32.97 501.4 30.94 501.6 29.87 501.8 30.48 502 32.32 502.2 34.54 502.4 36.79 502.6 39 502.8 41.18 503 43.33 503.2 45.44 503.4 47.5 503.6 49.51 503.8 51.46 504 53.33 504.2 55.09 504.4 56.63 504.6 57.7 504.8 58.18 505 58.29 505.2 58.3 505.4 58.3 505.6 58.29 505.8 58.21 506 57.81 506.2 56.84 506.4 55.36 506.6 53.63 506.8 51.79 507 49.86 507.2 47.87 507.4 45.83 507.6 43.75 507.8 41.62 508 39.46 508.2 37.26 508.4 35.03 508.6 32.81 508.8 30.85 509 29.99 509.2 30.85 509.4 32.81 509.6 35.03 509.8 37.26 510 39.46 510.2 41.62 510.4 43.75 510.6 45.83 510.8 47.87 511 49.86 511.2 51.79 511.4 53.63 511.6 55.36 511.8 56.84 512 57.81 512.2 58.21 512.4 58.29 512.6 58.3 512.8 58.3 513 58.29 513.2 58.18 513.4 57.7 513.6 56.61 513.8 55.06 514 53.28 514.2 51.39 514.4 49.42 514.6 47.39 514.8 45.31 515 43.18 515.2 41.01 515.4 38.81 515.6 36.57 515.8 34.31 516 32.06 516.2 30.2 516.4 29.59 516.6 30.67 516.8 32.72 517 34.99 517.2 37.25 517.4 39.48 517.6 41.67 517.8 43.83 518 45.94 518.2 48.01 518.4 50.02 518.6 51.96 518.8 53.83 519 55.56 519.2 57 519.4 57.89 519.6 58.23 519.8 58.3 520 58.3 520.2 58.3 520.4 58.28 520.6 58.14 520.8 57.58 521 56.44 521.2 54.87 521.4 53.11 521.6 51.24 521.8 49.3 522 47.3 522.2 45.25 522.4 43.16 522.6 41.03 522.8 38.87 523 36.67 523.2 34.44 523.4 32.27 523.6 30.57 523.8 30.22 524 31.49 524.2 33.55 524.4 35.78 524.6 37.99 524.8 40.17 525 42.31 525.2 44.42 525.4 46.49 525.6 48.51 525.8 50.47 526 52.37 526.2 54.18 526.4 55.85 526.6 57.2 526.8 57.98 527 58.25 527.2 58.3 527.4 58.3 527.6 58.3 527.8 58.27 528 58.09 528.2 57.46 528.4 56.24 528.6 54.65 528.8 52.89 529 51.03 529.2 49.1 529.4 47.11 529.6 45.08 529.8 43 530 40.88 530.2 38.74 530.4 36.55 530.6 34.35 530.8 32.21 531 30.66 531.2 30.57 531.4 32.02 531.6 34.13 531.8 36.33 532 38.52 532.2 40.67 532.4 42.79 532.6 44.87 532.8 46.91 533 48.9 533.2 50.84 533.4 52.7 533.6 54.48 533.8 56.1 534 57.37 534.2 58.06 534.4 58.27 534.6 58.3 534.8 58.3 535 58.3 535.2 58.27 535.4 58.04 535.6 57.33 535.8 56.06 536 54.45 536.2 52.69 536.4 50.84 536.6 48.93 536.8 46.96 537 44.95 537.2 42.9 537.4 40.8 537.6 38.68 537.8 36.52 538 34.35 538.2 32.29 538.4 30.92 538.6 31.09 538.8 32.67 539 34.78 539.2 36.96 539.4 39.11 539.6 41.22 539.8 43.31 540 45.36 540.2 47.36 540.4 49.32 540.6 51.22 540.8 53.05 541 54.78 541.2 56.34 541.4 57.51 541.6 58.11 541.8 58.28 542 58.3 542.2 58.3 542.4 58.3 542.6 58.25 542.8 57.97 543 57.18 543.2 55.86 543.4 54.25 543.6 52.5 543.8 50.66 544 48.77 544.2 46.82 544.4 44.83" fill="none" stroke="#ff0000" stroke-width="1.15" stroke-linejoin="round" clip-path="url(#cb)"/>
<path d="M393.2 12.6H543.6V64.3" fill="none" stroke="#2b2b2b" stroke-width="0.8"/>
<path d="M393.2 12.2V64.3H544" fill="none" stroke="#2b2b2b" stroke-width="0.95"/>
<path d="M393.1 64.3v-2.2M438.3 64.3v-2.2M483.5 64.3v-2.2M528.7 64.3v-2.2M415.7 64.3v-1.3M460.9 64.3v-1.3M506.1 64.3v-1.3M393.2 58.5h2.2M393.2 41.3h2.2M393.2 24.1h2.2M393.2 49.9h1.3M393.2 32.7h1.3M393.2 15.5h1.3" fill="none" stroke="#2b2b2b" stroke-width="0.81"/>
<g font-size="7.0" font-family="Liberation Sans, Arial, sans-serif" font-weight="bold" fill="#000" stroke="#000" stroke-width="0.1">
<text x="393.1" y="71.5" text-anchor="middle">1900</text>
<text x="438.3" y="71.5" text-anchor="middle">2000</text>
<text x="483.5" y="71.5" text-anchor="middle">2100</text>
<text x="528.7" y="71.5" text-anchor="middle">2200</text>
<text x="391.2" y="61" text-anchor="end">0</text>
<text x="391.2" y="43.8" text-anchor="end">30</text>
<text x="391.2" y="26.6" text-anchor="end">60</text>
</g>
<text transform="translate(380 38.6) rotate(-90)" font-size="10.2" text-anchor="middle" font-family="Liberation Sans, Arial, sans-serif" font-weight="bold" fill="#000">ΔR/R<tspan font-size="6.3" dy="2.2">0</tspan></text>
<text transform="translate(468.1 80) scale(1 1)" font-size="10.2" text-anchor="middle" font-family="Liberation Sans, Arial, sans-serif" font-weight="bold" fill="#000">Time (s)</text>
<path d="M53.1 289.32H54.1L54.1 283.24H55.1L55.1 279.04H56.1L56.1 276.77H57.1L57.1 274.15H58.1L58.1 271.96H59.1L59.1 270.36H60.1L60.1 269.29H61.1L61.1 267.42H62.1L62.1 266.7H63.1L63.1 265.95H64.1L64.1 265.13H65.1L65.1 264.02H66.1L66.1 263.33H67.1L67.1 262.03H68.1L68.1 261.75H69.1L69.1 261.97H70.1L70.1 261.26H71.1L71.1 259.96H72.1L72.1 260.15H73.1L73.1 259.96H74.1L74.1 257.32H75.1L75.1 258.69H76.1L76.1 258.4H77.1L77.1 257.59H78.1L78.1 257.5H79.1L79.1 257.11H80.1L80.1 255.91H81.1L81.1 254.95H82.1L82.1 255.67H83.1L83.1 255.74H84.1L84.1 254.93H85.1L85.1 254.77H86.1L86.1 254.44H87.1L87.1 254.61H88.1L88.1 253.14H89.1L89.1 254.35H90.1L90.1 254.4H91.1L91.1 253.01H92.1L92.1 252.76H93.1L93.1 253.87H94.1L94.1 253.87H95.1L95.1 253.04H96.1L96.1 251.18H97.1L97.1 253.58H98.1L98.1 253.01H99.1L99.1 253.48H100.1L100.1 252.26H101.1L101.1 252.96H102.1L102.1 253.04H103.1L103.1 252.3H104.1L104.1 252.55H105.1L105.1 253.04H106.1L106.1 252.62H107.1L107.1 249.68H108.1L108.1 251.27H109.1L109.1 252.17H110.1L110.1 251.69H111.1L111.1 252.62H112.1L112.1 252.12H113.1L113.1 250.17H114.1L114.1 252.37H115.1L115.1 248.12H116.1L116.1 250.41H117.1L117.1 251.15H118.1L118.1 251.86H119.1L119.1 252.21H120.1L120.1 251.95H121.1L121.1 250.89H122.1L122.1 251.82H123.1L123.1 250.68H124.1L124.1 252.24H125.1L125.1 250.65H126.1L126.1 250.44H127.1L127.1 251.24H128.1L128.1 252.44H129.1L129.1 252.46H130.1L130.1 252.71H131.1L131.1 252.77H132.1L132.1 251.39H133.1L133.1 252.17H134.1L134.1 251.38H135.1L135.1 252.64H136.1L136.1 252.58H137.1L137.1 250.62H138.1L138.1 248.24H139.1L139.1 253.19H140.1L140.1 251.77H141.1L141.1 252.65H142.1L142.1 253.66H143.1L143.1 252.73H144.1L144.1 253.54H145.1L145.1 253.54H146.1L146.1 250.3H147.1L147.1 252.76H148.1L148.1 254.32H149.1L149.1 253.27H150.1L150.1 254.66H151.1L151.1 252.43H152.1L152.1 253.97H153.1L153.1 254.01H154.1L154.1 255.24H155.1L155.1 255.3H156.1L156.1 254.72H157.1L157.1 255.13H158.1L158.1 253.88H159.1L159.1 255.49H160.1L160.1 255.4H161.1L161.1 255.92H162.1L162.1 255.39H163.1L163.1 252.85H164.1L164.1 256.02H165.1L165.1 254.74H166.1L166.1 256.36H167.1L167.1 254.27H168.1L168.1 255.97H169.1L169.1 256.71H170.1L170.1 255.28H171.1L171.1 254.66H172.1L172.1 256.99H173.1L173.1 257.12H174.1L174.1 257.04H175.1L175.1 256.64H176.1L176.1 254.21H177.1L177.1 255.41H178.1L178.1 257.21H179.1L179.1 257.66H180.1L180.1 256.78H181.1L181.1 256.9H182.1L182.1 257.6H183.1L183.1 256.96H184.1L184.1 253.65H185.1L185.1 257.95H186.1L186.1 257.79H187.1L187.1 256.21H188.1L188.1 258.17H189.1L189.1 258.29H190.1L190.1 258.31H191.1L191.1 256.98H192.1L192.1 258.53H193.1L193.1 258.71H194.1L194.1 257.9H195.1L195.1 257.55H196.1L196.1 257.76H197.1L197.1 258.86H198.1L198.1 256.83H199.1L199.1 259.27H200.1L200.1 258.7H201.1L201.1 258.72H202.1L202.1 258.25H203.1L203.1 258.77H204.1L204.1 258.72H205.1L205.1 254.32H206.1L206.1 258.55H207.1L207.1 258.31H208.1L208.1 256.47H209.1L209.1 258.93H210.1L210.1 258.95H211.1L211.1 258.66H212.1L212.1 259.62H213.1L213.1 259.75H214.1L214.1 258.74H215.1L215.1 259.4H216.1L216.1 259.89H217.1L217.1 259.69H218.1L218.1 258.83H219.1L219.1 258.63H220.1L220.1 259.5H221.1L221.1 259.99H222.1L222.1 258.2H223.1L223.1 259.9H224.1L224.1 258.54H225.1L225.1 259.86H226.1L226.1 256.98H227.1L227.1 258.3H228.1L228.1 259.11H229.1L229.1 259.2H230.1L230.1 258.86H231.1L231.1 258.61H232.1L232.1 258.9H233.1L233.1 258.49H234.1L234.1 259.7H235.1L235.1 259.21H236.1L236.1 258.26H237.1L237.1 259.17H238.1L238.1 255.92H239.1L239.1 258.96H240.1L240.1 259.39H241.1L241.1 257.35H242.1L242.1 259.2H243.1L243.1 258.93H244.1L244.1 258.67H245.1L245.1 257.67H246.1L246.1 259.54H247.1L247.1 257.52H248.1L248.1 258.9H249.1L249.1 259.39H250.1L250.1 259.5H251.1L251.1 255.6H252.1L252.1 256.83H253.1L253.1 259.25H254.1L254.1 259.71H255.1L255.1 256.34H256.1L256.1 260.58H257.1L257.1 260.79H258.1L258.1 260.37H259.1L259.1 260.23H259.1L259.1 296.44H259.1L259.1 296.65H258.1L258.1 296.6H257.1L257.1 296.21H256.1L256.1 296.7H255.1L255.1 296.36H254.1L254.1 296.65H253.1L253.1 296.63H252.1L252.1 296.33H251.1L251.1 296.31H250.1L250.1 296.55H249.1L249.1 296.51H248.1L248.1 296.46H247.1L247.1 296.36H246.1L246.1 296.27H245.1L245.1 296.64H244.1L244.1 296.45H243.1L243.1 296.22H242.1L242.1 296.17H241.1L241.1 296.39H240.1L240.1 296.73H239.1L239.1 296.2H238.1L238.1 296.52H237.1L237.1 296.23H236.1L236.1 296.16H235.1L235.1 296.71H234.1L234.1 296.15H233.1L233.1 296.58H232.1L232.1 296.3H231.1L231.1 296.27H230.1L230.1 296.51H229.1L229.1 296.57H228.1L228.1 296.21H227.1L227.1 296.65H226.1L226.1 296.18H225.1L225.1 296.2H224.1L224.1 296.67H223.1L223.1 296.47H222.1L222.1 296.59H221.1L221.1 296.31H220.1L220.1 296.29H219.1L219.1 296.28H218.1L218.1 296.66H217.1L217.1 296.29H216.1L216.1 296.21H215.1L215.1 296.2H214.1L214.1 296.66H213.1L213.1 296.73H212.1L212.1 296.76H211.1L211.1 296.36H210.1L210.1 296.2H209.1L209.1 296.49H208.1L208.1 296.53H207.1L207.1 296.56H206.1L206.1 296.36H205.1L205.1 296.22H204.1L204.1 296.54H203.1L203.1 296.41H202.1L202.1 296.55H201.1L201.1 296.56H200.1L200.1 296.73H199.1L199.1 296.26H198.1L198.1 296.51H197.1L197.1 296.56H196.1L196.1 296.31H195.1L195.1 296.28H194.1L194.1 296.72H193.1L193.1 296.46H192.1L192.1 296.62H191.1L191.1 296.62H190.1L190.1 296.24H189.1L189.1 296.3H188.1L188.1 296.22H187.1L187.1 296.34H186.1L186.1 296.27H185.1L185.1 296.52H184.1L184.1 296.73H183.1L183.1 296.7H182.1L182.1 296.5H181.1L181.1 296.31H180.1L180.1 296.68H179.1L179.1 296.78H178.1L178.1 296.41H177.1L177.1 296.3H176.1L176.1 296.69H175.1L175.1 296.7H174.1L174.1 296.62H173.1L173.1 296.36H172.1L172.1 296.74H171.1L171.1 296.56H170.1L170.1 296.63H169.1L169.1 296.69H168.1L168.1 296.75H167.1L167.1 296.7H166.1L166.1 296.73H165.1L165.1 296.39H164.1L164.1 296.68H163.1L163.1 296.6H162.1L162.1 296.59H161.1L161.1 296.26H160.1L160.1 296.43H159.1L159.1 296.73H158.1L158.1 296.67H157.1L157.1 296.51H156.1L156.1 296.42H155.1L155.1 296.85H154.1L154.1 296.41H153.1L153.1 296.54H152.1L152.1 296.83H151.1L151.1 296.49H150.1L150.1 296.72H149.1L149.1 296.67H148.1L148.1 296.68H147.1L147.1 296.68H146.1L146.1 296.69H145.1L145.1 296.66H144.1L144.1 296.29H143.1L143.1 296.58H142.1L142.1 296.75H141.1L141.1 296.28H140.1L140.1 296.87H139.1L139.1 296.45H138.1L138.1 296.82H137.1L137.1 296.32H136.1L136.1 296.44H135.1L135.1 296.44H134.1L134.1 296.68H133.1L133.1 296.64H132.1L132.1 296.79H131.1L131.1 296.83H130.1L130.1 296.54H129.1L129.1 296.33H128.1L128.1 296.82H127.1L127.1 296.78H126.1L126.1 296.86H125.1L125.1 296.71H124.1L124.1 296.36H123.1L123.1 296.61H122.1L122.1 296.42H121.1L121.1 296.44H120.1L120.1 296.79H119.1L119.1 296.56H118.1L118.1 296.65H117.1L117.1 296.71H116.1L116.1 296.39H115.1L115.1 296.32H114.1L114.1 296.8H113.1L113.1 296.39H112.1L112.1 296.42H111.1L111.1 296.57H110.1L110.1 296.33H109.1L109.1 296.58H108.1L108.1 296.57H107.1L107.1 296.87H106.1L106.1 296.91H105.1L105.1 296.76H104.1L104.1 296.73H103.1L103.1 296.7H102.1L102.1 296.46H101.1L101.1 296.66H100.1L100.1 296.88H99.1L99.1 296.51H98.1L98.1 296.8H97.1L97.1 296.79H96.1L96.1 296.38H95.1L95.1 296.59H94.1L94.1 296.49H93.1L93.1 296.42H92.1L92.1 296.85H91.1L91.1 296.93H90.1L90.1 296.63H89.1L89.1 296.68H88.1L88.1 296.77H87.1L87.1 296.55H86.1L86.1 296.58H85.1L85.1 296.39H84.1L84.1 296.48H83.1L83.1 296.81H82.1L82.1 296.53H81.1L81.1 296.43H80.1L80.1 296.53H79.1L79.1 296.7H78.1L78.1 296.86H77.1L77.1 296.4H76.1L76.1 296.51H75.1L75.1 296.57H74.1L74.1 296.73H73.1L73.1 296.8H72.1L72.1 296.91H71.1L71.1 296.83H70.1L70.1 296.77H69.1L69.1 296.38H68.1L68.1 296.59H67.1L67.1 296.85H66.1L66.1 296.77H65.1L65.1 296.45H64.1L64.1 296.63H63.1L63.1 296.85H62.1L62.1 296.46H61.1L61.1 296.61H60.1L60.1 296.47H59.1L59.1 296.47H58.1L58.1 296.5H57.1L57.1 296.54H56.1L56.1 296.45H55.1L55.1 296.51H54.1L54.1 296.4H53.1Z" fill="#ff0000"/>
<rect x="207.1" y="252.6" width="16" height="46.6" fill="none" stroke="#2a2af2" stroke-width="1.15" stroke-dasharray="4.4 2.9"/>
<path d="M43.8 180.6H266.2V302.8" fill="none" stroke="#2b2b2b" stroke-width="0.9"/>
<path d="M43.8 180.15V302.8H266.65" fill="none" stroke="#2b2b2b" stroke-width="1.25"/>
<path d="M53.4 302.8v-3.1M103.6 302.8v-3.1M153.8 302.8v-3.1M204 302.8v-3.1M254.2 302.8v-3.1M78.5 302.8v-1.7M128.7 302.8v-1.7M178.9 302.8v-1.7M229.1 302.8v-1.7M43.8 296.4h3.1M43.8 275.91h3.1M43.8 255.42h3.1M43.8 234.93h3.1M43.8 214.44h3.1M43.8 193.95h3.1M43.8 286.15h1.7M43.8 265.66h1.7M43.8 245.17h1.7M43.8 224.68h1.7M43.8 204.19h1.7M43.8 183.7h1.7" fill="none" stroke="#2b2b2b" stroke-width="1.06"/>
<g font-size="9.35" font-family="Liberation Sans, Arial, sans-serif" font-weight="bold" fill="#000" stroke="#000" stroke-width="0.2">
<text x="53.4" y="314.2" text-anchor="middle">0</text>
<text x="103.6" y="314.2" text-anchor="middle">2000</text>
<text x="153.8" y="314.2" text-anchor="middle">4000</text>
<text x="204" y="314.2" text-anchor="middle">6000</text>
<text x="254.2" y="314.2" text-anchor="middle">8000</text>
<text x="39.8" y="299.6" text-anchor="end">0</text>
<text x="39.8" y="279.11" text-anchor="end">300</text>
<text x="39.8" y="258.62" text-anchor="end">600</text>
<text x="39.8" y="238.13" text-anchor="end">900</text>
<text x="39.8" y="217.64" text-anchor="end">1200</text>
<text x="39.8" y="197.15" text-anchor="end">1500</text>
</g>
<text transform="translate(14.7 236) rotate(-90)" font-size="10.2" text-anchor="middle" font-family="Liberation Sans, Arial, sans-serif" font-weight="bold" fill="#000">ΔR/R<tspan font-size="6.3" dy="2.2">0</tspan></text>
<text transform="translate(155.2 327.6) scale(1 1)" font-size="10.3" text-anchor="middle" font-family="Liberation Sans, Arial, sans-serif" font-weight="bold" fill="#000">Time (s)</text>
<text x="5.8" y="181" font-size="16.3" font-family="Liberation Sans, Arial, sans-serif" font-weight="bold" fill="#000">c</text>
<text transform="translate(53.6 194.8) scale(1 1)" font-size="10.4" font-family="Liberation Sans, Arial, sans-serif" font-weight="bold" fill="#4472c4" stroke="#4472c4" stroke-width="0.2">ε=80%</text>
<rect x="117.45" y="180.6" width="148.65000000000003" height="50.80000000000001" fill="#fff"/>
<path d="M116.55 219.64 116.75 219.1 116.95 219.78 117.15 220.89 117.35 221.56 117.55 221.74 117.75 221.56 117.95 220.72 118.15 219.25 118.35 217.43 118.55 215.4 118.75 213.19 118.95 210.83 119.15 208.35 119.35 205.76 119.55 203.07 119.75 200.28 119.95 197.41 120.15 194.48 120.35 192.06 120.55 192.06 120.75 194.48 120.95 197.41 121.15 200.28 121.35 203.07 121.55 205.76 121.75 208.35 121.95 210.83 122.15 213.19 122.35 215.4 122.55 217.43 122.75 219.25 122.95 220.72 123.15 221.56 123.35 221.74 123.55 221.56 123.75 220.89 123.95 219.77 124.15 219.04 124.35 219.52 124.55 220.7 124.75 221.48 124.95 221.73 125.15 221.59 125.35 220.8 125.55 219.29 125.75 217.38 125.95 215.22 126.15 212.87 126.35 210.36 126.55 207.72 126.75 204.96 126.95 202.08 127.15 199.11 127.35 196.04 127.55 192.9 127.75 190.2 127.95 189.81 128.15 192.14 128.35 195.26 128.55 198.35 128.75 201.35 128.95 204.25 129.15 207.04 129.35 209.72 129.55 212.26 129.75 214.65 129.95 216.86 130.15 218.84 130.35 220.48 130.55 221.48 130.75 221.74 130.95 221.59 131.15 220.95 131.35 219.79 131.55 218.97 131.75 219.43 131.95 220.6 132.15 221.43 132.35 221.73 132.55 221.65 132.75 220.98 132.95 219.6 133.15 217.79 133.35 215.74 133.55 213.5 133.75 211.11 133.95 208.58 134.15 205.94 134.35 203.18 134.55 200.33 134.75 197.39 134.95 194.38 135.15 191.67 135.35 190.92 135.55 192.92 135.75 195.89 135.95 198.87 136.15 201.77 136.35 204.57 136.55 207.27 136.75 209.86 136.95 212.32 137.15 214.64 137.35 216.79 137.55 218.73 137.75 220.36 137.95 221.41 138.15 221.74 138.35 221.63 138.55 221.09 138.75 220.01 138.95 219.12 139.15 219.4 139.35 220.5 139.55 221.38 139.75 221.72 139.95 221.69 140.15 221.13 140.35 219.86 140.55 218.15 140.75 216.18 140.95 214.03 141.15 211.73 141.35 209.3 141.55 206.74 141.75 204.09 141.95 201.34 142.15 198.49 142.35 195.58 142.55 192.85 142.75 191.76 142.95 193.45 143.15 196.31 143.35 199.21 143.55 202.03 143.75 204.76 143.95 207.39 144.15 209.92 144.35 212.32 144.55 214.59 144.75 216.69 144.95 218.6 145.15 220.23 145.35 221.33 145.55 221.73 145.75 221.67 145.95 221.21 146.15 220.19 146.35 219.09 146.55 219.04 146.75 220.17 146.95 221.23 147.15 221.68 147.35 221.7 147.55 221.16 147.75 219.81 147.95 217.93 148.15 215.73 148.35 213.32 148.55 210.74 148.75 208 148.95 205.13 149.15 202.14 149.35 199.04 149.55 195.83 149.75 192.54 149.95 189.33 150.15 187.68 150.35 189.33 150.55 192.54 150.75 195.83 150.95 199.04 151.15 202.14 151.35 205.13 151.55 208 151.75 210.74 151.95 213.32 152.15 215.73 152.35 217.93 152.55 219.81 152.75 221.16 152.95 221.7 153.15 221.68 153.35 221.23 153.55 220.17 153.75 219 153.95 218.94 154.15 220.05 154.35 221.15 154.55 221.66 154.75 221.72 154.95 221.28 155.15 220.07 155.35 218.28 155.55 216.18 155.75 213.86 155.95 211.37 156.15 208.72 156.35 205.95 156.55 203.05 156.75 200.05 156.95 196.95 157.15 193.75 157.35 190.61 157.55 188.74 157.75 189.94 157.95 192.95 158.15 196.16 158.35 199.28 158.55 202.31 158.75 205.23 158.95 208.04 159.15 210.72 159.35 213.25 159.55 215.62 159.75 217.78 159.95 219.66 160.15 221.06 160.35 221.68 160.55 221.71 160.75 221.33 160.95 220.37 161.15 219.19 161.35 218.98 161.55 219.97 161.75 221.08 161.95 221.63 162.15 221.74 162.35 221.4 162.55 220.33 162.75 218.67 162.95 216.7 163.15 214.51 163.35 212.15 163.55 209.64 163.75 207.01 163.95 204.26 164.15 201.4 164.35 198.45 164.55 195.42 164.75 192.39 164.95 190.36 165.15 191.12 165.35 193.88 165.55 196.95 165.75 199.94 165.95 202.84 166.15 205.65 166.35 208.34 166.55 210.91 166.75 213.35 166.95 215.63 167.15 217.72 167.35 219.56 167.55 220.96 167.75 221.65 167.95 221.73 168.15 221.43 168.35 220.58 168.55 219.45 168.75 219.16 168.95 220 169.15 221.05 169.35 221.61 169.55 221.75 169.75 221.51 169.95 220.63 170.15 219.18 170.35 217.42 170.55 215.46 170.75 213.35 170.95 211.09 171.15 208.72 171.35 206.25 171.55 203.68 171.75 201.02 171.95 198.28 172.15 195.52 172.35 193.46 172.55 193.8 172.75 196.2 172.95 198.98 173.15 201.7 173.35 204.33 173.55 206.88 173.75 209.33 173.95 211.67 174.15 213.89 174.35 215.97 174.55 217.88 174.75 219.58 174.95 220.91 175.15 221.62 175.35 221.74 175.55 221.52 175.75 220.82 175.95 219.73 176.15 219.15 176.35 219.78 176.55 220.89 176.75 221.56 176.95 221.74 177.15 221.56 177.35 220.72 177.55 219.25 177.75 217.43 177.95 215.4 178.15 213.19 178.35 210.83 178.55 208.35 178.75 205.76 178.95 203.07 179.15 200.28 179.35 197.41 179.55 194.48 179.75 192.06 179.95 192.06 180.15 194.48 180.35 197.41 180.55 200.28 180.75 203.07 180.95 205.76 181.15 208.35 181.35 210.83 181.55 213.19 181.75 215.4 181.95 217.43 182.15 219.25 182.35 220.72 182.55 221.56 182.75 221.74 182.95 221.56 183.15 220.89 183.35 219.78 183.55 219.08 183.75 219.61 183.95 220.75 184.15 221.5 184.35 221.74 184.55 221.6 184.75 220.84 184.95 219.41 185.15 217.58 185.35 215.53 185.55 213.29 185.75 210.9 185.95 208.38 186.15 205.75 186.35 203.01 186.55 200.17 186.75 197.24 186.95 194.25 187.15 191.67 187.35 191.3 187.55 193.53 187.75 196.5 187.95 199.45 188.15 202.31 188.35 205.07 188.55 207.73 188.75 210.28 188.95 212.7 189.15 214.98 189.35 217.09 189.55 218.98 189.75 220.54 189.95 221.49 190.15 221.75 190.35 221.6 190.55 220.99 190.75 219.89 190.95 219.14 191.15 219.6 191.35 220.69 191.55 221.46 191.75 221.73 191.95 221.66 192.15 221.04 192.35 219.77 192.55 218.11 192.75 216.22 192.95 214.16 193.15 211.95 193.35 209.63 193.55 207.19 193.75 204.65 193.95 202.03 194.15 199.32 194.35 196.54 194.55 194.05 194.75 193.36 194.95 195.2 195.15 197.94 195.35 200.68 195.55 203.35 195.75 205.93 195.95 208.42 196.15 210.8 196.35 213.07 196.55 215.21 196.75 217.19 196.95 218.97 197.15 220.47 197.35 221.44 197.55 221.74 197.75 221.65 197.95 221.15 198.15 220.14 198.35 219.21 198.55 219.37 198.75 220.46 198.95 221.36 199.15 221.71 199.35 221.69 199.55 221.11 199.75 219.8 199.95 218.03 200.15 216.01 200.35 213.79 200.55 211.41 200.75 208.9 200.95 206.27 201.15 203.53 201.35 200.69 201.55 197.76 201.75 194.75 201.95 191.94 202.15 190.81 202.35 192.56 202.55 195.51 202.75 198.5 202.95 201.41 203.15 204.23 203.35 206.94 203.55 209.54 203.75 212.02 203.95 214.36 204.15 216.53 204.35 218.5 204.55 220.18 204.75 221.32 204.95 221.72 205.15 221.67 205.35 221.19 205.55 220.17 205.75 219.21 205.95 219.36 206.15 220.39 206.35 221.31 206.55 221.7 206.75 221.71 206.95 221.25 207.15 220.1 207.35 218.47 207.55 216.59 207.75 214.52 207.95 212.3 208.15 209.95 208.35 207.49 208.55 204.92 208.75 202.25 208.95 199.5 209.15 196.67 209.35 193.92 209.55 192.5 209.75 193.92 209.95 196.67 210.15 199.5 210.35 202.25 210.55 204.92 210.75 207.49 210.95 209.95 211.15 212.3 211.35 214.52 211.55 216.59 211.75 218.47 211.95 220.1 212.15 221.25 212.35 221.71 212.55 221.7 212.75 221.31 212.95 220.4 213.15 219.37 213.35 219.26 213.55 220.21 213.75 221.21 213.95 221.67 214.15 221.73 214.35 221.33 214.55 220.23 214.75 218.6 214.95 216.69 215.15 214.59 215.35 212.32 215.55 209.92 215.75 207.39 215.95 204.76 216.15 202.03 216.35 199.21 216.55 196.31 216.75 193.45 216.95 191.76 217.15 192.85 217.35 195.58 217.55 198.49 217.75 201.34 217.95 204.09 218.15 206.74 218.35 209.3 218.55 211.73 218.75 214.03 218.95 216.18 219.15 218.15 219.35 219.86 219.55 221.13 219.75 221.69 219.95 221.72 220.15 221.38 220.35 220.5 220.55 219.4 220.75 219.12 220.95 220.01 221.15 221.09 221.35 221.63 221.55 221.74 221.75 221.41 221.95 220.36 222.15 218.73 222.35 216.79 222.55 214.64 222.75 212.32 222.95 209.86 223.15 207.27 223.35 204.57 223.55 201.77 223.75 198.87 223.95 195.89 224.15 192.92 224.35 190.92 224.55 191.67 224.75 194.38 224.95 197.39 225.15 200.33 225.35 203.18 225.55 205.94 225.75 208.58 225.95 211.11 226.15 213.5 226.35 215.74 226.55 217.79 226.75 219.6 226.95 220.98 227.15 221.65 227.35 221.73 227.55 221.43 227.75 220.6 227.95 219.44 228.15 219.01 228.35 219.83 228.55 220.97 228.75 221.59 228.95 221.74 229.15 221.48 229.35 220.51 229.55 218.9 229.75 216.96 229.95 214.79 230.15 212.45 230.35 209.96 230.55 207.34 230.75 204.61 230.95 201.77 231.15 198.83 231.35 195.8 231.55 192.75 231.75 190.46 231.95 190.84 232.15 193.49 232.35 196.57 232.55 199.57 232.75 202.49 232.95 205.3 233.15 208.01 233.35 210.6 233.55 213.05 233.75 215.35 233.95 217.47 234.15 219.34 234.35 220.82 234.55 221.6 234.75 221.74 234.95 221.49 235.15 220.72 235.35 219.56 235.55 219.06 235.75 219.77 235.95 220.89 236.15 221.56 236.35 221.74 236.55 221.56 236.75 220.72 236.95 219.25 237.15 217.43 237.35 215.4 237.55 213.19 237.75 210.83 237.95 208.35 238.15 205.76 238.35 203.07 238.55 200.28 238.75 197.41 238.95 194.48 239.15 192.06 239.35 192.06 239.55 194.48 239.75 197.41 239.95 200.28 240.15 203.07 240.35 205.76 240.55 208.35 240.75 210.83 240.95 213.19 241.15 215.4 241.35 217.43 241.55 219.25 241.75 220.72 241.95 221.56 242.15 221.74 242.35 221.56 242.55 220.89 242.75 219.78 242.95 219.13 243.15 219.69 243.35 220.8 243.55 221.51 243.75 221.74 243.95 221.61 244.15 220.89 244.35 219.53 244.55 217.79 244.75 215.83 244.95 213.71 245.15 211.43 245.35 209.04 245.55 206.53 245.75 203.93 245.95 201.23 246.15 198.45 246.35 195.6 246.55 193.15 246.75 192.8 246.95 194.92 247.15 197.74 247.35 200.54 247.55 203.26 247.75 205.89 247.95 208.42 248.15 210.85 248.35 213.15 248.55 215.32 248.75 217.32 248.95 219.12 249.15 220.6 249.35 221.51 249.55 221.75 249.75 221.61 249.95 221.03 250.15 219.96 250.35 219.12 250.55 219.44 250.75 220.58 250.95 221.43 251.15 221.73 251.35 221.65 251.55 220.96 251.75 219.56 251.95 217.72 252.15 215.63 252.35 213.35 252.55 210.91 252.75 208.34 252.95 205.65 253.15 202.84 253.35 199.94 253.55 196.95 253.75 193.88 253.95 191.12 254.15 190.36 254.35 192.39 254.55 195.42 254.75 198.45 254.95 201.4 255.15 204.26 255.35 207.01 255.55 209.64 255.75 212.15 255.95 214.51 256.15 216.7 256.35 218.67 256.55 220.33 256.75 221.4 256.95 221.74 257.15 221.63 257.35 221.08 257.55 219.98 257.75 219.06 257.95 219.33 258.15 220.46 258.35 221.36 258.55 221.71 258.75 221.69 258.95 221.11 259.15 219.8 259.35 218.03 259.55 216.01 259.75 213.79 259.95 211.41 260.15 208.9 260.35 206.27 260.55 203.53 260.75 200.69 260.95 197.76 261.15 194.75 261.35 191.94 261.55 190.81 261.75 192.56 261.95 195.51 262.15 198.5 262.35 201.41 262.55 204.23 262.75 206.94 262.95 209.54 263.15 212.02 263.35 214.36 263.55 216.53 263.75 218.5 263.95 220.18 264.15 221.32 264.35 221.72 264.55 221.67 264.75 221.19 264.95 220.16 265.15 219.17 265.35 219.27 265.55 220.34 265.75 221.29 265.95 221.69 266.15 221.71 266.35 221.22 266.55 220.02 266.75 218.33 266.95 216.37" fill="none" stroke="#ff0000" stroke-width="1.15" stroke-linejoin="round" clip-path="url(#cc)"/>
<path d="M117.45 180.6H266.1V231.4" fill="none" stroke="#2b2b2b" stroke-width="0.8"/>
<path d="M117.45 180.2V231.4H266.5" fill="none" stroke="#2b2b2b" stroke-width="0.95"/>
<path d="M140.7 231.4v-2.2M165.9 231.4v-2.2M191.1 231.4v-2.2M216.3 231.4v-2.2M241.5 231.4v-2.2M128.1 231.4v-1.3M153.3 231.4v-1.3M178.5 231.4v-1.3M203.7 231.4v-1.3M228.9 231.4v-1.3M254.1 231.4v-1.3M117.45 222h2.2M117.45 210.23h2.2M117.45 198.46h2.2M117.45 186.69h2.2M117.45 227.88h1.3M117.45 216.12h1.3M117.45 204.34h1.3M117.45 192.57h1.3M117.45 180.81h1.3" fill="none" stroke="#2b2b2b" stroke-width="0.81"/>
<g font-size="7.0" font-family="Liberation Sans, Arial, sans-serif" font-weight="bold" fill="#000" stroke="#000" stroke-width="0.1">
<text x="140.7" y="239.7" text-anchor="middle">6150</text>
<text x="165.9" y="239.7" text-anchor="middle">6300</text>
<text x="191.1" y="239.7" text-anchor="middle">6450</text>
<text x="216.3" y="239.7" text-anchor="middle">6600</text>
<text x="241.5" y="239.7" text-anchor="middle">6750</text>
<text x="115.15" y="224.5" text-anchor="end">0</text>
<text x="115.15" y="212.73" text-anchor="end">200</text>
<text x="115.15" y="200.96" text-anchor="end">400</text>
<text x="115.15" y="189.19" text-anchor="end">600</text>
</g>
<text transform="translate(100 206.2) rotate(-90)" font-size="10.2" text-anchor="middle" font-family="Liberation Sans, Arial, sans-serif" font-weight="bold" fill="#000">ΔR/R<tspan font-size="6.3" dy="2.2">0</tspan></text>
<text transform="translate(192 249.2) scale(1 1)" font-size="10.2" text-anchor="middle" font-family="Liberation Sans, Arial, sans-serif" font-weight="bold" fill="#000">Time (s)</text>
<path d="M332.2 238.92H333.1L333.1 236.6H334L334 235.26H334.9L334.9 237.06H335.8L335.8 238.74H336.7L336.7 240.37H337.6L337.6 242.39H338.5L338.5 242.87H339.4L339.4 244.69H340.3L340.3 245.79H341.2L341.2 247.25H342.1L342.1 247.71H343L343 249H343.9L343.9 249.26H344.8L344.8 250.81H345.7L345.7 251.4H346.6L346.6 251.99H347.5L347.5 252.49H348.4L348.4 252.26H349.3L349.3 253.94H350.2L350.2 254.07H351.1L351.1 255.06H352L352 255.31H352.9L352.9 255.83H353.8L353.8 256.38H354.7L354.7 256.57H355.6L355.6 257.14H356.5L356.5 257.66H357.4L357.4 257.75H358.3L358.3 258.57H359.2L359.2 257.4H360.1L360.1 259.98H361L361 258.44H361.9L361.9 261.15H362.8L362.8 259.68H363.7L363.7 261.37H364.6L364.6 261.48H365.5L365.5 261.5H366.4L366.4 260.96H367.3L367.3 261.57H368.2L368.2 261.61H369.1L369.1 261.25H370L370 261.91H370.9L370.9 261.54H371.8L371.8 261.72H372.7L372.7 261.95H373.6L373.6 260.75H374.5L374.5 261.88H375.4L375.4 261.98H376.3L376.3 261.55H377.2L377.2 261.18H378.1L378.1 262.14H379L379 262.26H379.9L379.9 260.61H380.8L380.8 262.12H381.7L381.7 262.06H382.6L382.6 262.19H383.5L383.5 261.61H384.4L384.4 262.32H385.3L385.3 261.9H386.2L386.2 262.46H387.1L387.1 263.08H388L388 263H388.9L388.9 262.6H389.8L389.8 263.51H390.7L390.7 263.92H391.6L391.6 264.41H392.5L392.5 263.96H393.4L393.4 264.55H394.3L394.3 264.81H395.2L395.2 264.97H396.1L396.1 265.12H397L397 265.32H397.9L397.9 265.44H398.8L398.8 265.37H399.7L399.7 265.77H400.6L400.6 265.73H401.5L401.5 265.64H402.4L402.4 264.85H403.3L403.3 265.81H404.2L404.2 265.75H405.1L405.1 265.05H406L406 265.41H406.9L406.9 265.65H407.8L407.8 265.82H408.7L408.7 265.88H409.6L409.6 266.28H410.5L410.5 266.33H411.4L411.4 266.4H412.3L412.3 266.4H413.2L413.2 265.95H414.1L414.1 265.98H415L415 266.51H415.9L415.9 265.57H416.8L416.8 266.29H417.7L417.7 266.22H418.6L418.6 266.65H419.5L419.5 265.65H420.4L420.4 266.72H421.3L421.3 266.68H422.2L422.2 266.51H423.1L423.1 266.51H424L424 266.51H424.9L424.9 265.46H425.8L425.8 266.99H426.7L426.7 266.42H427.6L427.6 266.76H428.5L428.5 266.17H429.4L429.4 266.52H430.3L430.3 266.23H431.2L431.2 266.08H432.1L432.1 266.38H433L433 267.16H433.9L433.9 266.84H434.8L434.8 266.48H435.7L435.7 266.53H436.6L436.6 265.96H437.5L437.5 267.15H438.4L438.4 267.5H439.3L439.3 266.84H440.2L440.2 267.43H441.1L441.1 267.08H442L442 267.69H442.9L442.9 267.53H443.8L443.8 267.27H444.7L444.7 267.8H445.6L445.6 267.72H446.5L446.5 267.89H447.4L447.4 266.81H448.3L448.3 267.27H449.2L449.2 267.58H450.1L450.1 267.79H451L451 266.15H451.9L451.9 268.13H452.8L452.8 267.68H453.7L453.7 268.35H454.6L454.6 267.92H455.5L455.5 268.39H456.4L456.4 268.56H457.3L457.3 267.3H458.2L458.2 268.49H459.1L459.1 266.25H460L460 268.15H460.9L460.9 268.19H461.8L461.8 268.19H462.7L462.7 266.33H463.6L463.6 268.67H464.5L464.5 266.4H465.4L465.4 268.6H466.3L466.3 268.76H467.2L467.2 267.41H468.1L468.1 268.77H469L469 268.47H469.9L469.9 267.84H470.8L470.8 268.65H471.7L471.7 268.13H472.6L472.6 268.27H473.5L473.5 268.19H474.4L474.4 268.75H475.3L475.3 268.17H476.2L476.2 267.84H477.1L477.1 268.76H478L478 267.07H478.9L478.9 267.18H479.8L479.8 268.64H480.7L480.7 267.15H481.6L481.6 267.33H482.5L482.5 268.79H483.4L483.4 268.11H484.3L484.3 267.06H485.2L485.2 267.92H486.1L486.1 268.79H487L487 268.59H487.9L487.9 268.42H488.8L488.8 268.62H489.7L489.7 268.61H490.6L490.6 268.83H491.5L491.5 268.88H492.4L492.4 268.69H493.3L493.3 268.59H494.2L494.2 268.42H495.1L495.1 267.19H496L496 268.85H496.9L496.9 268.95H497.8L497.8 268.36H498.7L498.7 268.82H499.6L499.6 270.02H500.5L500.5 269.76H501.4L501.4 270.55H502.3L502.3 269.01H503.2L503.2 270.47H504.1L504.1 270.13H505L505 270.31H505.9L505.9 270.28H506.8L506.8 270.55H507.7L507.7 270.45H508.6L508.6 270.53H509.5L509.5 270.2H510.4L510.4 270.44H511.3L511.3 270.26H512.2L512.2 270.34H513.1L513.1 270.18H514L514 268.75H514.9L514.9 270.39H515.8L515.8 270.38H516.7L516.7 270.31H517.6L517.6 270.41H518.5L518.5 270.57H519.4L519.4 270.72H520.3L520.3 270.46H521.2L521.2 270.74H522.1L522.1 270.32H523L523 269.73H523.9L523.9 270.05H524.8L524.8 270.1H525.7L525.7 270.83H526.6L526.6 270.96H527.5L527.5 270.87H528.4L528.4 270.54H529.3L529.3 270.95H530.2L530.2 270.98H531.1L531.1 268.57H532L532 270.82H532.9L532.9 271.04H533.8L533.8 270.69H534.7L534.7 270.44H535.1L535.1 293H534.7L534.7 293H533.8L533.8 293H532.9L532.9 293.01H532L532 293.01H531.1L531.1 293.01H530.2L530.2 293.01H529.3L529.3 293.01H528.4L528.4 293.01H527.5L527.5 293.02H526.6L526.6 293.02H525.7L525.7 293.02H524.8L524.8 293.02H523.9L523.9 293.02H523L523 293.02H522.1L522.1 293.03H521.2L521.2 293.03H520.3L520.3 293.03H519.4L519.4 293.03H518.5L518.5 293.03H517.6L517.6 293.04H516.7L516.7 293.04H515.8L515.8 293.04H514.9L514.9 293.04H514L514 293.04H513.1L513.1 293.04H512.2L512.2 293.05H511.3L511.3 293.05H510.4L510.4 293.05H509.5L509.5 293.05H508.6L508.6 293.05H507.7L507.7 293.05H506.8L506.8 293.06H505.9L505.9 293.06H505L505 293.06H504.1L504.1 293.06H503.2L503.2 293.06H502.3L502.3 293.07H501.4L501.4 293.07H500.5L500.5 293.07H499.6L499.6 293.07H498.7L498.7 293.07H497.8L497.8 293.07H496.9L496.9 293.08H496L496 293.08H495.1L495.1 293.08H494.2L494.2 293.08H493.3L493.3 293.08H492.4L492.4 293.09H491.5L491.5 293.09H490.6L490.6 293.09H489.7L489.7 293.09H488.8L488.8 293.09H487.9L487.9 293.09H487L487 293.1H486.1L486.1 293.1H485.2L485.2 293.1H484.3L484.3 293.1H483.4L483.4 293.1H482.5L482.5 293.1H481.6L481.6 293.11H480.7L480.7 293.11H479.8L479.8 293.11H478.9L478.9 293.11H478L478 293.11H477.1L477.1 293.12H476.2L476.2 293.12H475.3L475.3 293.12H474.4L474.4 293.12H473.5L473.5 293.12H472.6L472.6 293.12H471.7L471.7 293.13H470.8L470.8 293.13H469.9L469.9 293.13H469L469 293.13H468.1L468.1 293.13H467.2L467.2 293.13H466.3L466.3 293.14H465.4L465.4 293.14H464.5L464.5 293.14H463.6L463.6 293.14H462.7L462.7 293.14H461.8L461.8 293.15H460.9L460.9 293.15H460L460 293.15H459.1L459.1 293.15H458.2L458.2 293.15H457.3L457.3 293.15H456.4L456.4 293.16H455.5L455.5 293.16H454.6L454.6 293.16H453.7L453.7 293.16H452.8L452.8 293.16H451.9L451.9 293.16H451L451 293.17H450.1L450.1 293.17H449.2L449.2 293.17H448.3L448.3 293.17H447.4L447.4 293.17H446.5L446.5 293.18H445.6L445.6 293.18H444.7L444.7 293.18H443.8L443.8 293.18H442.9L442.9 293.18H442L442 293.18H441.1L441.1 293.19H440.2L440.2 293.19H439.3L439.3 293.19H438.4L438.4 293.19H437.5L437.5 293.19H436.6L436.6 293.2H435.7L435.7 293.2H434.8L434.8 293.2H433.9L433.9 293.2H433L433 293.2H432.1L432.1 293.2H431.2L431.2 293.21H430.3L430.3 293.21H429.4L429.4 293.21H428.5L428.5 293.21H427.6L427.6 293.21H426.7L426.7 293.21H425.8L425.8 293.22H424.9L424.9 293.22H424L424 293.22H423.1L423.1 293.22H422.2L422.2 293.22H421.3L421.3 293.23H420.4L420.4 293.23H419.5L419.5 293.23H418.6L418.6 293.23H417.7L417.7 293.23H416.8L416.8 293.23H415.9L415.9 293.24H415L415 293.24H414.1L414.1 293.24H413.2L413.2 293.24H412.3L412.3 293.24H411.4L411.4 293.24H410.5L410.5 293.25H409.6L409.6 293.25H408.7L408.7 293.25H407.8L407.8 293.25H406.9L406.9 293.25H406L406 293.26H405.1L405.1 293.26H404.2L404.2 293.26H403.3L403.3 293.26H402.4L402.4 293.26H401.5L401.5 293.26H400.6L400.6 293.27H399.7L399.7 293.27H398.8L398.8 293.27H397.9L397.9 293.27H397L397 293.27H396.1L396.1 293.27H395.2L395.2 293.28H394.3L394.3 293.28H393.4L393.4 293.28H392.5L392.5 293.28H391.6L391.6 293.28H390.7L390.7 293.29H389.8L389.8 293.29H388.9L388.9 293.29H388L388 293.29H387.1L387.1 293.29H386.2L386.2 293.29H385.3L385.3 293.3H384.4L384.4 293.3H383.5L383.5 293.3H382.6L382.6 293.3H381.7L381.7 293.3H380.8L380.8 293.31H379.9L379.9 293.31H379L379 293.31H378.1L378.1 293.31H377.2L377.2 293.31H376.3L376.3 293.31H375.4L375.4 293.32H374.5L374.5 293.32H373.6L373.6 293.32H372.7L372.7 293.32H371.8L371.8 293.32H370.9L370.9 293.32H370L370 293.33H369.1L369.1 293.33H368.2L368.2 293.33H367.3L367.3 293.33H366.4L366.4 293.33H365.5L365.5 293.34H364.6L364.6 293.34H363.7L363.7 293.34H362.8L362.8 293.34H361.9L361.9 293.34H361L361 293.34H360.1L360.1 293.35H359.2L359.2 293.35H358.3L358.3 293.35H357.4L357.4 293.35H356.5L356.5 293.35H355.6L355.6 293.35H354.7L354.7 293.36H353.8L353.8 293.36H352.9L352.9 293.36H352L352 293.36H351.1L351.1 293.36H350.2L350.2 293.37H349.3L349.3 293.37H348.4L348.4 293.37H347.5L347.5 293.37H346.6L346.6 293.37H345.7L345.7 293.37H344.8L344.8 293.38H343.9L343.9 293.38H343L343 293.38H342.1L342.1 293.38H341.2L341.2 293.38H340.3L340.3 293.38H339.4L339.4 293.39H338.5L338.5 293.39H337.6L337.6 293.39H336.7L336.7 293.39H335.8L335.8 293.39H334.9L334.9 293.4H334L334 293.4H333.1L333.1 293.4H332.2Z" fill="#ff0000"/>
<path d="M320.6 180H544.45V302.8" fill="none" stroke="#2b2b2b" stroke-width="1.15"/>
<path d="M320.6 179.43V302.8H545.03" fill="none" stroke="#2b2b2b" stroke-width="1.25"/>
<path d="M332.5 302.8v-3.1M368.41 302.8v-3.1M404.32 302.8v-3.1M440.23 302.8v-3.1M476.14 302.8v-3.1M512.05 302.8v-3.1M350.45 302.8v-1.7M386.37 302.8v-1.7M422.27 302.8v-1.7M458.19 302.8v-1.7M494.1 302.8v-1.7M530 302.8v-1.7M320.6 293.6h3.1M320.6 273.5h3.1M320.6 253.4h3.1M320.6 233.3h3.1M320.6 213.2h3.1M320.6 193.1h3.1M320.6 283.55h1.7M320.6 263.45h1.7M320.6 243.35h1.7M320.6 223.25h1.7M320.6 203.15h1.7M320.6 183.05h1.7" fill="none" stroke="#2b2b2b" stroke-width="1.06"/>
<g font-size="9.25" font-family="Liberation Sans, Arial, sans-serif" font-weight="bold" fill="#000" stroke="#000" stroke-width="0.2">
<text x="332.5" y="314.2" text-anchor="middle">0</text>
<text x="368.41" y="314.2" text-anchor="middle">3000</text>
<text x="404.32" y="314.2" text-anchor="middle">6000</text>
<text x="440.23" y="314.2" text-anchor="middle">9000</text>
<text x="476.14" y="314.2" text-anchor="middle">12000</text>
<text x="512.05" y="314.2" text-anchor="middle">15000</text>
<text x="316.6" y="296.8" text-anchor="end">0</text>
<text x="316.6" y="276.7" text-anchor="end">30</text>
<text x="316.6" y="256.6" text-anchor="end">60</text>
<text x="316.6" y="236.5" text-anchor="end">90</text>
<text x="316.6" y="216.4" text-anchor="end">120</text>
<text x="316.6" y="196.3" text-anchor="end">150</text>
</g>
<path d="M544.8 179.6V231.7" stroke="#2b2b2b" stroke-width="1.5" fill="none"/>
<text transform="translate(294.5 235.6) rotate(-90)" font-size="10.2" text-anchor="middle" font-family="Liberation Sans, Arial, sans-serif" font-weight="bold" fill="#000">ΔR/R<tspan font-size="6.3" dy="2.2">0</tspan></text>
<text transform="translate(432.9 328.1) scale(1 1)" font-size="10.3" text-anchor="middle" font-family="Liberation Sans, Arial, sans-serif" font-weight="bold" fill="#000">Time (s)</text>
<text x="282.6" y="181" font-size="16.3" font-family="Liberation Sans, Arial, sans-serif" font-weight="bold" fill="#000">d</text>
<text transform="translate(331.7 195.8) scale(1 1)" font-size="10.4" font-family="Liberation Sans, Arial, sans-serif" font-weight="bold" fill="#4472c4" stroke="#4472c4" stroke-width="0.2">ε=30%</text>
</svg>
</body></html>
